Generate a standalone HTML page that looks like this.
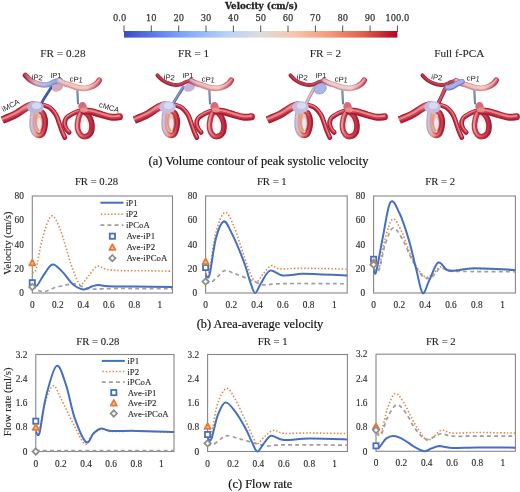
<!DOCTYPE html>
<html><head><meta charset="utf-8"><style>
html,body{margin:0;padding:0;background:#fff;}
svg{display:block;}
</style></head><body>
<svg width="520" height="492" viewBox="0 0 520 492">
<defs><linearGradient id="cb" x1="0" x2="1" y1="0" y2="0"><stop offset="0" stop-color="#3b4cc0"/><stop offset="0.125" stop-color="#6282ea"/><stop offset="0.25" stop-color="#8db0fe"/><stop offset="0.375" stop-color="#b8d0f9"/><stop offset="0.5" stop-color="#dddddd"/><stop offset="0.625" stop-color="#f5c4ad"/><stop offset="0.75" stop-color="#f49a7b"/><stop offset="0.875" stop-color="#de604d"/><stop offset="1" stop-color="#b40426"/></linearGradient><linearGradient id="p2o0" gradientUnits="userSpaceOnUse" x1="27" y1="0" x2="62" y2="0"><stop offset="0" stop-color="#962a3c"/><stop offset="0.3" stop-color="#c08a9c"/><stop offset="0.55" stop-color="#909cd4"/><stop offset="1" stop-color="#6a82c8"/></linearGradient><linearGradient id="p2i0" gradientUnits="userSpaceOnUse" x1="27" y1="0" x2="62" y2="0"><stop offset="0" stop-color="#b84a58"/><stop offset="0.3" stop-color="#e0b4bc"/><stop offset="0.55" stop-color="#b4bce8"/><stop offset="1" stop-color="#88a0dc"/></linearGradient><linearGradient id="p1o0" gradientUnits="userSpaceOnUse" x1="60" y1="0" x2="101" y2="0"><stop offset="0" stop-color="#b8a0c8"/><stop offset="0.2" stop-color="#d8909a"/><stop offset="0.7" stop-color="#dc9c9c"/><stop offset="1" stop-color="#c0485c"/></linearGradient><linearGradient id="p1i0" gradientUnits="userSpaceOnUse" x1="60" y1="0" x2="101" y2="0"><stop offset="0" stop-color="#d8c4dc"/><stop offset="0.2" stop-color="#f0c0b8"/><stop offset="0.7" stop-color="#f0c8c0"/><stop offset="1" stop-color="#d86a78"/></linearGradient><linearGradient id="p2o1" gradientUnits="userSpaceOnUse" x1="27" y1="0" x2="62" y2="0"><stop offset="0" stop-color="#9a2038"/><stop offset="1" stop-color="#a62a40"/></linearGradient><linearGradient id="p2i1" gradientUnits="userSpaceOnUse" x1="27" y1="0" x2="62" y2="0"><stop offset="0" stop-color="#b83a50"/><stop offset="1" stop-color="#c04858"/></linearGradient><linearGradient id="p1o1" gradientUnits="userSpaceOnUse" x1="60" y1="0" x2="101" y2="0"><stop offset="0" stop-color="#b05070"/><stop offset="0.2" stop-color="#d08088"/><stop offset="0.7" stop-color="#dc9898"/><stop offset="1" stop-color="#c04458"/></linearGradient><linearGradient id="p1i1" gradientUnits="userSpaceOnUse" x1="60" y1="0" x2="101" y2="0"><stop offset="0" stop-color="#c890a8"/><stop offset="0.2" stop-color="#eab0b0"/><stop offset="0.7" stop-color="#f0c8c0"/><stop offset="1" stop-color="#d86a78"/></linearGradient><linearGradient id="p2o2" gradientUnits="userSpaceOnUse" x1="27" y1="0" x2="62" y2="0"><stop offset="0" stop-color="#9a2038"/><stop offset="1" stop-color="#a62a40"/></linearGradient><linearGradient id="p2i2" gradientUnits="userSpaceOnUse" x1="27" y1="0" x2="62" y2="0"><stop offset="0" stop-color="#b83a50"/><stop offset="1" stop-color="#c04858"/></linearGradient><linearGradient id="p1o2" gradientUnits="userSpaceOnUse" x1="60" y1="0" x2="101" y2="0"><stop offset="0" stop-color="#b06078"/><stop offset="0.2" stop-color="#cc98a4"/><stop offset="0.7" stop-color="#d4a4a8"/><stop offset="1" stop-color="#b84058"/></linearGradient><linearGradient id="p1i2" gradientUnits="userSpaceOnUse" x1="60" y1="0" x2="101" y2="0"><stop offset="0" stop-color="#d0b0c0"/><stop offset="0.2" stop-color="#ecccc8"/><stop offset="0.7" stop-color="#f0d0cc"/><stop offset="1" stop-color="#d87080"/></linearGradient><linearGradient id="p2o3" gradientUnits="userSpaceOnUse" x1="27" y1="0" x2="62" y2="0"><stop offset="0" stop-color="#9a2038"/><stop offset="1" stop-color="#a62a40"/></linearGradient><linearGradient id="p2i3" gradientUnits="userSpaceOnUse" x1="27" y1="0" x2="62" y2="0"><stop offset="0" stop-color="#b83a50"/><stop offset="1" stop-color="#c04858"/></linearGradient><linearGradient id="p1o3" gradientUnits="userSpaceOnUse" x1="60" y1="0" x2="101" y2="0"><stop offset="0" stop-color="#b06078"/><stop offset="0.2" stop-color="#d08890"/><stop offset="0.7" stop-color="#dc9c9c"/><stop offset="1" stop-color="#b83c54"/></linearGradient><linearGradient id="p1i3" gradientUnits="userSpaceOnUse" x1="60" y1="0" x2="101" y2="0"><stop offset="0" stop-color="#d0a0b0"/><stop offset="0.2" stop-color="#ecb8b4"/><stop offset="0.7" stop-color="#f0c8c0"/><stop offset="1" stop-color="#d86a78"/></linearGradient><linearGradient id="mcaLo" gradientUnits="userSpaceOnUse" x1="4" y1="0" x2="38" y2="0"><stop offset="0" stop-color="#a81c33"/><stop offset="0.6" stop-color="#b02436"/><stop offset="1" stop-color="#c46a80"/></linearGradient><linearGradient id="mcaLi" gradientUnits="userSpaceOnUse" x1="4" y1="0" x2="38" y2="0"><stop offset="0" stop-color="#c83444"/><stop offset="0.55" stop-color="#cf4656"/><stop offset="1" stop-color="#e8aab0"/></linearGradient><linearGradient id="loopL" x1="0" x2="1" y1="0" y2="0"><stop offset="0" stop-color="#d9a0a6"/><stop offset="0.3" stop-color="#e79a88"/><stop offset="0.6" stop-color="#d2424e"/><stop offset="1" stop-color="#b32538"/></linearGradient><linearGradient id="loopLw" x1="0" x2="1" y1="0" y2="0"><stop offset="0" stop-color="#aaa4d6"/><stop offset="0.22" stop-color="#dca0a0"/><stop offset="0.55" stop-color="#c83a48"/><stop offset="1" stop-color="#a81e34"/></linearGradient><linearGradient id="loopRw" x1="0" x2="1" y1="0" y2="0"><stop offset="0" stop-color="#c03848"/><stop offset="0.5" stop-color="#c02c40"/><stop offset="1" stop-color="#a81c34"/></linearGradient><linearGradient id="loopRi" x1="0" x2="1" y1="0" y2="0"><stop offset="0" stop-color="#eaa8a8"/><stop offset="0.5" stop-color="#d85060"/><stop offset="1" stop-color="#c43448"/></linearGradient><linearGradient id="loopLi" x1="0" x2="1" y1="0" y2="0"><stop offset="0" stop-color="#e6c4c4"/><stop offset="0.35" stop-color="#f0aa90"/><stop offset="1" stop-color="#cc4050"/></linearGradient></defs>
<rect width="520" height="492" fill="#fff"/>
<g transform="translate(-2,0)"><path d="M45.0,105.0 C46.2,105.5 49.9,106.2 52.0,107.8 C54.1,109.4 56.3,112.0 57.8,114.5 C59.3,117.0 60.0,119.7 61.0,122.5 C62.0,125.3 63.0,128.7 64.0,131.2 C65.0,133.7 66.3,136.5 66.8,137.6" fill="none" stroke="#a81c33" stroke-width="4.8" stroke-linecap="round" stroke-linejoin="round" /><path d="M45.0,105.0 C46.2,105.5 49.9,106.2 52.0,107.8 C54.1,109.4 56.3,112.0 57.8,114.5 C59.3,117.0 60.0,119.7 61.0,122.5 C62.0,125.3 63.0,128.7 64.0,131.2 C65.0,133.7 66.3,136.5 66.8,137.6" fill="none" stroke="#cc3a4a" stroke-width="2.64" stroke-linecap="round" stroke-linejoin="round" transform="translate(0,-0.5)"/><path d="M45.0,105.0 C46.2,105.5 49.9,106.2 52.0,107.8 C54.1,109.4 56.3,112.0 57.8,114.5 C59.3,117.0 60.0,119.7 61.0,122.5 C62.0,125.3 63.0,128.7 64.0,131.2 C65.0,133.7 66.3,136.5 66.8,137.6" fill="none" stroke="#eca2a2" stroke-width="1.06" stroke-linecap="round" stroke-linejoin="round" transform="translate(0,-1.0)" opacity="0.75"/><path d="M83.0,111.0 C82.2,111.2 79.8,111.6 78.0,112.3 C76.2,113.0 74.2,114.0 72.5,115.0 C70.8,116.0 69.0,117.0 68.0,118.5 C67.0,120.0 66.5,122.4 66.6,124.2 C66.7,126.0 67.8,128.2 68.6,129.6 C69.4,131.0 70.8,131.9 71.2,132.4" fill="none" stroke="#a81c33" stroke-width="4.8" stroke-linecap="round" stroke-linejoin="round" /><path d="M83.0,111.0 C82.2,111.2 79.8,111.6 78.0,112.3 C76.2,113.0 74.2,114.0 72.5,115.0 C70.8,116.0 69.0,117.0 68.0,118.5 C67.0,120.0 66.5,122.4 66.6,124.2 C66.7,126.0 67.8,128.2 68.6,129.6 C69.4,131.0 70.8,131.9 71.2,132.4" fill="none" stroke="#cc3a4a" stroke-width="2.64" stroke-linecap="round" stroke-linejoin="round" transform="translate(0,-0.5)"/><path d="M83.0,111.0 C82.2,111.2 79.8,111.6 78.0,112.3 C76.2,113.0 74.2,114.0 72.5,115.0 C70.8,116.0 69.0,117.0 68.0,118.5 C67.0,120.0 66.5,122.4 66.6,124.2 C66.7,126.0 67.8,128.2 68.6,129.6 C69.4,131.0 70.8,131.9 71.2,132.4" fill="none" stroke="#eca2a2" stroke-width="1.06" stroke-linecap="round" stroke-linejoin="round" transform="translate(0,-1.0)" opacity="0.75"/><path d="M36.0,110.5 C35.0,111.8 34.5,115.0 34.3,118.0 C34.0,121.0 33.8,125.7 34.5,128.5 C35.2,131.3 36.9,133.9 38.5,134.9 C40.1,135.9 42.6,135.7 44.0,134.4 C45.4,133.1 46.5,129.6 47.0,127.0 C47.5,124.4 47.6,121.3 47.2,119.0 C46.8,116.7 45.9,114.4 44.8,113.0 C43.7,111.6 42.0,110.9 40.5,110.5 C39.0,110.1 37.0,109.2 36.0,110.5Z" fill="#efc0b0"/><ellipse cx="41.3" cy="124" rx="2" ry="6" fill="#e4e8f8"/><path d="M39,114 C37,120 37.5,127 40.5,131" fill="none" stroke="#e8926c" stroke-width="2" opacity="0.9"/><path d="M43.6,116 C45.2,121 45,127 43,131" fill="none" stroke="#d24a56" stroke-width="1.6" opacity="0.9"/><path d="M36.0,110.5 C35.0,111.8 34.5,115.0 34.3,118.0 C34.0,121.0 33.8,125.7 34.5,128.5 C35.2,131.3 36.9,133.9 38.5,134.9 C40.1,135.9 42.6,135.7 44.0,134.4 C45.4,133.1 46.5,129.6 47.0,127.0 C47.5,124.4 47.6,121.3 47.2,119.0 C46.8,116.7 45.9,114.4 44.8,113.0 C43.7,111.6 42.0,110.9 40.5,110.5 C39.0,110.1 37.0,109.2 36.0,110.5Z" fill="none" stroke="url(#loopLw)" stroke-width="5.4"/><path d="M36.0,110.5 C35.0,111.8 34.5,115.0 34.3,118.0 C34.0,121.0 33.8,125.7 34.5,128.5 C35.2,131.3 36.9,133.9 38.5,134.9 C40.1,135.9 42.6,135.7 44.0,134.4 C45.4,133.1 46.5,129.6 47.0,127.0 C47.5,124.4 47.6,121.3 47.2,119.0 C46.8,116.7 45.9,114.4 44.8,113.0 C43.7,111.6 42.0,110.9 40.5,110.5 C39.0,110.1 37.0,109.2 36.0,110.5Z" fill="none" stroke="url(#loopLi)" stroke-width="2.2" transform="translate(-0.4,-0.3)" opacity="0.85"/><path d="M84.0,111.5 C82.7,112.5 81.0,116.2 80.3,119.0 C79.6,121.8 79.2,125.9 79.6,128.5 C80.0,131.1 81.2,133.5 82.5,134.8 C83.8,136.2 85.8,136.9 87.5,136.6 C89.2,136.3 91.5,135.1 92.6,133.2 C93.7,131.3 94.1,127.6 94.0,125.0 C93.9,122.4 92.8,119.5 91.8,117.5 C90.8,115.5 89.3,114.0 88.0,113.0 C86.7,112.0 85.3,110.5 84.0,111.5Z" fill="#f6eeee"/><ellipse cx="86.4" cy="127" rx="3" ry="5.8" fill="#ffffff"/><path d="M84.0,111.5 C82.7,112.5 81.0,116.2 80.3,119.0 C79.6,121.8 79.2,125.9 79.6,128.5 C80.0,131.1 81.2,133.5 82.5,134.8 C83.8,136.2 85.8,136.9 87.5,136.6 C89.2,136.3 91.5,135.1 92.6,133.2 C93.7,131.3 94.1,127.6 94.0,125.0 C93.9,122.4 92.8,119.5 91.8,117.5 C90.8,115.5 89.3,114.0 88.0,113.0 C86.7,112.0 85.3,110.5 84.0,111.5Z" fill="none" stroke="url(#loopRw)" stroke-width="5.6"/><path d="M84.0,111.5 C82.7,112.5 81.0,116.2 80.3,119.0 C79.6,121.8 79.2,125.9 79.6,128.5 C80.0,131.1 81.2,133.5 82.5,134.8 C83.8,136.2 85.8,136.9 87.5,136.6 C89.2,136.3 91.5,135.1 92.6,133.2 C93.7,131.3 94.1,127.6 94.0,125.0 C93.9,122.4 92.8,119.5 91.8,117.5 C90.8,115.5 89.3,114.0 88.0,113.0 C86.7,112.0 85.3,110.5 84.0,111.5Z" fill="none" stroke="url(#loopRi)" stroke-width="2.2" transform="translate(-0.4,-0.3)" opacity="0.85"/><path d="M4.3,120.0 C5.5,119.5 9.0,118.2 11.5,117.1 C14.0,116.0 16.8,114.7 19.2,113.3 C21.6,111.9 23.9,110.0 26.0,108.8 C28.1,107.6 29.9,106.7 31.7,106.0 C33.5,105.3 36.1,104.8 37.0,104.5" fill="none" stroke="url(#mcaLo)" stroke-width="7.8" stroke-linecap="butt" stroke-linejoin="round" /><path d="M4.3,120.0 C5.5,119.5 9.0,118.2 11.5,117.1 C14.0,116.0 16.8,114.7 19.2,113.3 C21.6,111.9 23.9,110.0 26.0,108.8 C28.1,107.6 29.9,106.7 31.7,106.0 C33.5,105.3 36.1,104.8 37.0,104.5" fill="none" stroke="url(#mcaLi)" stroke-width="4.68" stroke-linecap="butt" stroke-linejoin="round" transform="translate(0,-0.5)"/><path d="M4.3,120.0 C5.5,119.5 9.0,118.2 11.5,117.1 C14.0,116.0 16.8,114.7 19.2,113.3 C21.6,111.9 23.9,110.0 26.0,108.8 C28.1,107.6 29.9,106.7 31.7,106.0 C33.5,105.3 36.1,104.8 37.0,104.5" fill="none" stroke="#eca2a2" stroke-width="2.18" stroke-linecap="round" stroke-linejoin="round" transform="translate(0,-1.0)" opacity="0.75"/><path d="M86.0,111.0 C87.0,111.1 90.2,111.2 92.0,111.5 C93.8,111.8 94.9,112.0 97.0,112.6 C99.1,113.2 101.8,114.2 104.6,115.0 C107.4,115.8 111.0,117.0 113.8,117.3 C116.6,117.6 120.1,116.9 121.4,116.8" fill="none" stroke="#a81c33" stroke-width="7.0" stroke-linecap="round" stroke-linejoin="round" /><path d="M86.0,111.0 C87.0,111.1 90.2,111.2 92.0,111.5 C93.8,111.8 94.9,112.0 97.0,112.6 C99.1,113.2 101.8,114.2 104.6,115.0 C107.4,115.8 111.0,117.0 113.8,117.3 C116.6,117.6 120.1,116.9 121.4,116.8" fill="none" stroke="#cc3a4a" stroke-width="4.20" stroke-linecap="round" stroke-linejoin="round" transform="translate(0,-0.5)"/><path d="M86.0,111.0 C87.0,111.1 90.2,111.2 92.0,111.5 C93.8,111.8 94.9,112.0 97.0,112.6 C99.1,113.2 101.8,114.2 104.6,115.0 C107.4,115.8 111.0,117.0 113.8,117.3 C116.6,117.6 120.1,116.9 121.4,116.8" fill="none" stroke="#eca2a2" stroke-width="1.96" stroke-linecap="round" stroke-linejoin="round" transform="translate(0,-1.0)" opacity="0.75"/><path d="M53.5,87.0 C52.8,88.2 50.7,91.3 49.0,94.0 C47.3,96.7 44.2,101.8 43.3,103.3" fill="none" stroke="#2d4a9a" stroke-width="2.6" stroke-linecap="round" stroke-linejoin="round" /><path d="M53.5,87.0 C52.8,88.2 50.7,91.3 49.0,94.0 C47.3,96.7 44.2,101.8 43.3,103.3" fill="none" stroke="#4565b5" stroke-width="1.30" stroke-linecap="round" stroke-linejoin="round" transform="translate(0,-0.5)"/><path d="M79.4,90.0 C79.4,91.0 79.5,93.8 79.6,96.0 C79.7,98.2 79.9,102.2 80.0,103.5" fill="none" stroke="#5c6f95" stroke-width="2.0" stroke-linecap="round" stroke-linejoin="round" /><path d="M79.4,90.0 C79.4,91.0 79.5,93.8 79.6,96.0 C79.7,98.2 79.9,102.2 80.0,103.5" fill="none" stroke="#7a90b8" stroke-width="1.10" stroke-linecap="round" stroke-linejoin="round" transform="translate(0,-0.5)"/><ellipse cx="37.5" cy="107.2" rx="8.2" ry="6.2" fill="#b8b6d8"/><ellipse cx="38.5" cy="105.8" rx="4.5" ry="3.2" fill="#dedcf2" opacity="0.9"/><ellipse cx="84.5" cy="106.5" rx="4.2" ry="4.4" fill="#d66a76"/><ellipse cx="86" cy="110" rx="4" ry="2.5" fill="#e89a8e" opacity="0.8"/><ellipse cx="59.5" cy="87.3" rx="5.8" ry="4.2" fill="#d4a8b8" transform="rotate(-25 59.5 87.3)"/><path d="M27.4,75.3 C28.2,76.1 30.5,78.8 32.5,80.2 C34.5,81.6 37.0,82.8 39.3,83.6 C41.5,84.4 44.1,84.9 46.0,85.0 C47.9,85.1 49.0,84.8 50.8,84.3 C52.5,83.8 54.6,82.4 56.5,81.8 C58.4,81.2 61.3,80.8 62.3,80.6" fill="none" stroke="url(#p2o0)" stroke-width="5.4" stroke-linecap="round" stroke-linejoin="round" /><path d="M27.4,75.3 C28.2,76.1 30.5,78.8 32.5,80.2 C34.5,81.6 37.0,82.8 39.3,83.6 C41.5,84.4 44.1,84.9 46.0,85.0 C47.9,85.1 49.0,84.8 50.8,84.3 C52.5,83.8 54.6,82.4 56.5,81.8 C58.4,81.2 61.3,80.8 62.3,80.6" fill="none" stroke="url(#p2i0)" stroke-width="2.97" stroke-linecap="round" stroke-linejoin="round" transform="translate(0,-0.5)"/><path d="M61.0,80.8 C61.8,81.2 64.0,82.4 66.0,83.2 C68.0,84.0 70.5,84.7 72.7,85.4 C74.9,86.1 77.0,87.1 79.4,87.6 C81.8,88.1 84.7,88.5 87.1,88.3 C89.5,88.1 91.9,87.4 93.8,86.6 C95.7,85.8 97.5,84.5 98.7,83.5 C99.9,82.5 100.8,80.8 101.2,80.3" fill="none" stroke="url(#p1o0)" stroke-width="5.8" stroke-linecap="round" stroke-linejoin="round" /><path d="M61.0,80.8 C61.8,81.2 64.0,82.4 66.0,83.2 C68.0,84.0 70.5,84.7 72.7,85.4 C74.9,86.1 77.0,87.1 79.4,87.6 C81.8,88.1 84.7,88.5 87.1,88.3 C89.5,88.1 91.9,87.4 93.8,86.6 C95.7,85.8 97.5,84.5 98.7,83.5 C99.9,82.5 100.8,80.8 101.2,80.3" fill="none" stroke="url(#p1i0)" stroke-width="3.19" stroke-linecap="round" stroke-linejoin="round" transform="translate(0,-0.5)"/><path d="M61.0,80.8 C61.8,81.2 64.0,82.4 66.0,83.2 C68.0,84.0 70.5,84.7 72.7,85.4 C74.9,86.1 77.0,87.1 79.4,87.6 C81.8,88.1 84.7,88.5 87.1,88.3 C89.5,88.1 91.9,87.4 93.8,86.6 C95.7,85.8 97.5,84.5 98.7,83.5 C99.9,82.5 100.8,80.8 101.2,80.3" fill="none" stroke="#f4d0c8" stroke-width="1.28" stroke-linecap="round" stroke-linejoin="round" transform="translate(0,-1.0)" opacity="0.6"/><text x="33.6" y="79.3" font-family="'Liberation Sans',sans-serif" font-size="7.6" fill="#222" transform="rotate(6 33.6 79.3)">iP2</text><text x="52.6" y="78" font-family="'Liberation Sans',sans-serif" font-size="7.6" fill="#222">iP1</text><text x="71.5" y="81.2" font-family="'Liberation Sans',sans-serif" font-size="7.6" fill="#222" transform="rotate(7 71.5 81.2)">cP1</text><text x="5.5" y="112" font-family="'Liberation Sans',sans-serif" font-size="7.6" fill="#222" transform="rotate(-27 5.5 112)">iMCA</text><text x="100.5" y="106.8" font-family="'Liberation Sans',sans-serif" font-size="7.6" fill="#222" transform="rotate(17 100.5 106.8)">cMCA</text></g><g transform="translate(130,0)"><path d="M45.0,105.0 C46.2,105.5 49.9,106.2 52.0,107.8 C54.1,109.4 56.3,112.0 57.8,114.5 C59.3,117.0 60.0,119.7 61.0,122.5 C62.0,125.3 63.0,128.7 64.0,131.2 C65.0,133.7 66.3,136.5 66.8,137.6" fill="none" stroke="#a81c33" stroke-width="4.8" stroke-linecap="round" stroke-linejoin="round" /><path d="M45.0,105.0 C46.2,105.5 49.9,106.2 52.0,107.8 C54.1,109.4 56.3,112.0 57.8,114.5 C59.3,117.0 60.0,119.7 61.0,122.5 C62.0,125.3 63.0,128.7 64.0,131.2 C65.0,133.7 66.3,136.5 66.8,137.6" fill="none" stroke="#cc3a4a" stroke-width="2.64" stroke-linecap="round" stroke-linejoin="round" transform="translate(0,-0.5)"/><path d="M45.0,105.0 C46.2,105.5 49.9,106.2 52.0,107.8 C54.1,109.4 56.3,112.0 57.8,114.5 C59.3,117.0 60.0,119.7 61.0,122.5 C62.0,125.3 63.0,128.7 64.0,131.2 C65.0,133.7 66.3,136.5 66.8,137.6" fill="none" stroke="#eca2a2" stroke-width="1.06" stroke-linecap="round" stroke-linejoin="round" transform="translate(0,-1.0)" opacity="0.75"/><path d="M83.0,111.0 C82.2,111.2 79.8,111.6 78.0,112.3 C76.2,113.0 74.2,114.0 72.5,115.0 C70.8,116.0 69.0,117.0 68.0,118.5 C67.0,120.0 66.5,122.4 66.6,124.2 C66.7,126.0 67.8,128.2 68.6,129.6 C69.4,131.0 70.8,131.9 71.2,132.4" fill="none" stroke="#a81c33" stroke-width="4.8" stroke-linecap="round" stroke-linejoin="round" /><path d="M83.0,111.0 C82.2,111.2 79.8,111.6 78.0,112.3 C76.2,113.0 74.2,114.0 72.5,115.0 C70.8,116.0 69.0,117.0 68.0,118.5 C67.0,120.0 66.5,122.4 66.6,124.2 C66.7,126.0 67.8,128.2 68.6,129.6 C69.4,131.0 70.8,131.9 71.2,132.4" fill="none" stroke="#cc3a4a" stroke-width="2.64" stroke-linecap="round" stroke-linejoin="round" transform="translate(0,-0.5)"/><path d="M83.0,111.0 C82.2,111.2 79.8,111.6 78.0,112.3 C76.2,113.0 74.2,114.0 72.5,115.0 C70.8,116.0 69.0,117.0 68.0,118.5 C67.0,120.0 66.5,122.4 66.6,124.2 C66.7,126.0 67.8,128.2 68.6,129.6 C69.4,131.0 70.8,131.9 71.2,132.4" fill="none" stroke="#eca2a2" stroke-width="1.06" stroke-linecap="round" stroke-linejoin="round" transform="translate(0,-1.0)" opacity="0.75"/><path d="M36.0,110.5 C35.0,111.8 34.5,115.0 34.3,118.0 C34.0,121.0 33.8,125.7 34.5,128.5 C35.2,131.3 36.9,133.9 38.5,134.9 C40.1,135.9 42.6,135.7 44.0,134.4 C45.4,133.1 46.5,129.6 47.0,127.0 C47.5,124.4 47.6,121.3 47.2,119.0 C46.8,116.7 45.9,114.4 44.8,113.0 C43.7,111.6 42.0,110.9 40.5,110.5 C39.0,110.1 37.0,109.2 36.0,110.5Z" fill="#efc0b0"/><ellipse cx="41.3" cy="124" rx="2" ry="6" fill="#e4e8f8"/><path d="M39,114 C37,120 37.5,127 40.5,131" fill="none" stroke="#e8926c" stroke-width="2" opacity="0.9"/><path d="M43.6,116 C45.2,121 45,127 43,131" fill="none" stroke="#d24a56" stroke-width="1.6" opacity="0.9"/><path d="M36.0,110.5 C35.0,111.8 34.5,115.0 34.3,118.0 C34.0,121.0 33.8,125.7 34.5,128.5 C35.2,131.3 36.9,133.9 38.5,134.9 C40.1,135.9 42.6,135.7 44.0,134.4 C45.4,133.1 46.5,129.6 47.0,127.0 C47.5,124.4 47.6,121.3 47.2,119.0 C46.8,116.7 45.9,114.4 44.8,113.0 C43.7,111.6 42.0,110.9 40.5,110.5 C39.0,110.1 37.0,109.2 36.0,110.5Z" fill="none" stroke="url(#loopLw)" stroke-width="5.4"/><path d="M36.0,110.5 C35.0,111.8 34.5,115.0 34.3,118.0 C34.0,121.0 33.8,125.7 34.5,128.5 C35.2,131.3 36.9,133.9 38.5,134.9 C40.1,135.9 42.6,135.7 44.0,134.4 C45.4,133.1 46.5,129.6 47.0,127.0 C47.5,124.4 47.6,121.3 47.2,119.0 C46.8,116.7 45.9,114.4 44.8,113.0 C43.7,111.6 42.0,110.9 40.5,110.5 C39.0,110.1 37.0,109.2 36.0,110.5Z" fill="none" stroke="url(#loopLi)" stroke-width="2.2" transform="translate(-0.4,-0.3)" opacity="0.85"/><path d="M84.0,111.5 C82.7,112.5 81.0,116.2 80.3,119.0 C79.6,121.8 79.2,125.9 79.6,128.5 C80.0,131.1 81.2,133.5 82.5,134.8 C83.8,136.2 85.8,136.9 87.5,136.6 C89.2,136.3 91.5,135.1 92.6,133.2 C93.7,131.3 94.1,127.6 94.0,125.0 C93.9,122.4 92.8,119.5 91.8,117.5 C90.8,115.5 89.3,114.0 88.0,113.0 C86.7,112.0 85.3,110.5 84.0,111.5Z" fill="#f6eeee"/><ellipse cx="86.4" cy="127" rx="3" ry="5.8" fill="#ffffff"/><path d="M84.0,111.5 C82.7,112.5 81.0,116.2 80.3,119.0 C79.6,121.8 79.2,125.9 79.6,128.5 C80.0,131.1 81.2,133.5 82.5,134.8 C83.8,136.2 85.8,136.9 87.5,136.6 C89.2,136.3 91.5,135.1 92.6,133.2 C93.7,131.3 94.1,127.6 94.0,125.0 C93.9,122.4 92.8,119.5 91.8,117.5 C90.8,115.5 89.3,114.0 88.0,113.0 C86.7,112.0 85.3,110.5 84.0,111.5Z" fill="none" stroke="url(#loopRw)" stroke-width="5.6"/><path d="M84.0,111.5 C82.7,112.5 81.0,116.2 80.3,119.0 C79.6,121.8 79.2,125.9 79.6,128.5 C80.0,131.1 81.2,133.5 82.5,134.8 C83.8,136.2 85.8,136.9 87.5,136.6 C89.2,136.3 91.5,135.1 92.6,133.2 C93.7,131.3 94.1,127.6 94.0,125.0 C93.9,122.4 92.8,119.5 91.8,117.5 C90.8,115.5 89.3,114.0 88.0,113.0 C86.7,112.0 85.3,110.5 84.0,111.5Z" fill="none" stroke="url(#loopRi)" stroke-width="2.2" transform="translate(-0.4,-0.3)" opacity="0.85"/><path d="M4.3,120.0 C5.5,119.5 9.0,118.2 11.5,117.1 C14.0,116.0 16.8,114.7 19.2,113.3 C21.6,111.9 23.9,110.0 26.0,108.8 C28.1,107.6 29.9,106.7 31.7,106.0 C33.5,105.3 36.1,104.8 37.0,104.5" fill="none" stroke="url(#mcaLo)" stroke-width="7.8" stroke-linecap="butt" stroke-linejoin="round" /><path d="M4.3,120.0 C5.5,119.5 9.0,118.2 11.5,117.1 C14.0,116.0 16.8,114.7 19.2,113.3 C21.6,111.9 23.9,110.0 26.0,108.8 C28.1,107.6 29.9,106.7 31.7,106.0 C33.5,105.3 36.1,104.8 37.0,104.5" fill="none" stroke="url(#mcaLi)" stroke-width="4.68" stroke-linecap="butt" stroke-linejoin="round" transform="translate(0,-0.5)"/><path d="M4.3,120.0 C5.5,119.5 9.0,118.2 11.5,117.1 C14.0,116.0 16.8,114.7 19.2,113.3 C21.6,111.9 23.9,110.0 26.0,108.8 C28.1,107.6 29.9,106.7 31.7,106.0 C33.5,105.3 36.1,104.8 37.0,104.5" fill="none" stroke="#eca2a2" stroke-width="2.18" stroke-linecap="round" stroke-linejoin="round" transform="translate(0,-1.0)" opacity="0.75"/><path d="M86.0,111.0 C87.0,111.1 90.2,111.2 92.0,111.5 C93.8,111.8 94.9,112.0 97.0,112.6 C99.1,113.2 101.8,114.2 104.6,115.0 C107.4,115.8 111.0,117.0 113.8,117.3 C116.6,117.6 120.1,116.9 121.4,116.8" fill="none" stroke="#a81c33" stroke-width="7.0" stroke-linecap="round" stroke-linejoin="round" /><path d="M86.0,111.0 C87.0,111.1 90.2,111.2 92.0,111.5 C93.8,111.8 94.9,112.0 97.0,112.6 C99.1,113.2 101.8,114.2 104.6,115.0 C107.4,115.8 111.0,117.0 113.8,117.3 C116.6,117.6 120.1,116.9 121.4,116.8" fill="none" stroke="#cc3a4a" stroke-width="4.20" stroke-linecap="round" stroke-linejoin="round" transform="translate(0,-0.5)"/><path d="M86.0,111.0 C87.0,111.1 90.2,111.2 92.0,111.5 C93.8,111.8 94.9,112.0 97.0,112.6 C99.1,113.2 101.8,114.2 104.6,115.0 C107.4,115.8 111.0,117.0 113.8,117.3 C116.6,117.6 120.1,116.9 121.4,116.8" fill="none" stroke="#eca2a2" stroke-width="1.96" stroke-linecap="round" stroke-linejoin="round" transform="translate(0,-1.0)" opacity="0.75"/><path d="M53.5,87.0 C52.8,88.2 50.7,91.3 49.0,94.0 C47.3,96.7 44.2,101.8 43.3,103.3" fill="none" stroke="#5a72ac" stroke-width="3.0" stroke-linecap="round" stroke-linejoin="round" /><path d="M53.5,87.0 C52.8,88.2 50.7,91.3 49.0,94.0 C47.3,96.7 44.2,101.8 43.3,103.3" fill="none" stroke="#7f95c8" stroke-width="1.50" stroke-linecap="round" stroke-linejoin="round" transform="translate(0,-0.5)"/><path d="M79.4,90.0 C79.4,91.0 79.5,93.8 79.6,96.0 C79.7,98.2 79.9,102.2 80.0,103.5" fill="none" stroke="#5c6f95" stroke-width="2.0" stroke-linecap="round" stroke-linejoin="round" /><path d="M79.4,90.0 C79.4,91.0 79.5,93.8 79.6,96.0 C79.7,98.2 79.9,102.2 80.0,103.5" fill="none" stroke="#7a90b8" stroke-width="1.10" stroke-linecap="round" stroke-linejoin="round" transform="translate(0,-0.5)"/><ellipse cx="37.5" cy="107.2" rx="8.2" ry="6.2" fill="#c4bfe2"/><ellipse cx="38.5" cy="105.8" rx="4.5" ry="3.2" fill="#dedcf2" opacity="0.9"/><ellipse cx="84.5" cy="106.5" rx="4.2" ry="4.4" fill="#d66a76"/><ellipse cx="86" cy="110" rx="4" ry="2.5" fill="#e89a8e" opacity="0.8"/><ellipse cx="59.5" cy="87.3" rx="5.8" ry="4.2" fill="#c6b2d6" transform="rotate(-25 59.5 87.3)"/><path d="M27.4,75.3 C28.2,76.1 30.5,78.8 32.5,80.2 C34.5,81.6 37.0,82.8 39.3,83.6 C41.5,84.4 44.1,84.9 46.0,85.0 C47.9,85.1 49.0,84.8 50.8,84.3 C52.5,83.8 54.6,82.4 56.5,81.8 C58.4,81.2 61.3,80.8 62.3,80.6" fill="none" stroke="url(#p2o1)" stroke-width="3.8" stroke-linecap="round" stroke-linejoin="round" /><path d="M27.4,75.3 C28.2,76.1 30.5,78.8 32.5,80.2 C34.5,81.6 37.0,82.8 39.3,83.6 C41.5,84.4 44.1,84.9 46.0,85.0 C47.9,85.1 49.0,84.8 50.8,84.3 C52.5,83.8 54.6,82.4 56.5,81.8 C58.4,81.2 61.3,80.8 62.3,80.6" fill="none" stroke="url(#p2i1)" stroke-width="2.09" stroke-linecap="round" stroke-linejoin="round" transform="translate(0,-0.5)"/><path d="M61.0,80.8 C61.8,81.2 64.0,82.4 66.0,83.2 C68.0,84.0 70.5,84.7 72.7,85.4 C74.9,86.1 77.0,87.1 79.4,87.6 C81.8,88.1 84.7,88.5 87.1,88.3 C89.5,88.1 91.9,87.4 93.8,86.6 C95.7,85.8 97.5,84.5 98.7,83.5 C99.9,82.5 100.8,80.8 101.2,80.3" fill="none" stroke="url(#p1o1)" stroke-width="5.8" stroke-linecap="round" stroke-linejoin="round" /><path d="M61.0,80.8 C61.8,81.2 64.0,82.4 66.0,83.2 C68.0,84.0 70.5,84.7 72.7,85.4 C74.9,86.1 77.0,87.1 79.4,87.6 C81.8,88.1 84.7,88.5 87.1,88.3 C89.5,88.1 91.9,87.4 93.8,86.6 C95.7,85.8 97.5,84.5 98.7,83.5 C99.9,82.5 100.8,80.8 101.2,80.3" fill="none" stroke="url(#p1i1)" stroke-width="3.19" stroke-linecap="round" stroke-linejoin="round" transform="translate(0,-0.5)"/><path d="M61.0,80.8 C61.8,81.2 64.0,82.4 66.0,83.2 C68.0,84.0 70.5,84.7 72.7,85.4 C74.9,86.1 77.0,87.1 79.4,87.6 C81.8,88.1 84.7,88.5 87.1,88.3 C89.5,88.1 91.9,87.4 93.8,86.6 C95.7,85.8 97.5,84.5 98.7,83.5 C99.9,82.5 100.8,80.8 101.2,80.3" fill="none" stroke="#f4d0c8" stroke-width="1.28" stroke-linecap="round" stroke-linejoin="round" transform="translate(0,-1.0)" opacity="0.6"/><text x="33.6" y="79.3" font-family="'Liberation Sans',sans-serif" font-size="7.6" fill="#222" transform="rotate(6 33.6 79.3)">iP2</text><text x="52.6" y="78" font-family="'Liberation Sans',sans-serif" font-size="7.6" fill="#222">iP1</text><text x="71.5" y="81.2" font-family="'Liberation Sans',sans-serif" font-size="7.6" fill="#222" transform="rotate(7 71.5 81.2)">cP1</text></g><g transform="translate(263,0)"><path d="M45.0,105.0 C46.2,105.5 49.9,106.2 52.0,107.8 C54.1,109.4 56.3,112.0 57.8,114.5 C59.3,117.0 60.0,119.7 61.0,122.5 C62.0,125.3 63.0,128.7 64.0,131.2 C65.0,133.7 66.3,136.5 66.8,137.6" fill="none" stroke="#a81c33" stroke-width="4.8" stroke-linecap="round" stroke-linejoin="round" /><path d="M45.0,105.0 C46.2,105.5 49.9,106.2 52.0,107.8 C54.1,109.4 56.3,112.0 57.8,114.5 C59.3,117.0 60.0,119.7 61.0,122.5 C62.0,125.3 63.0,128.7 64.0,131.2 C65.0,133.7 66.3,136.5 66.8,137.6" fill="none" stroke="#cc3a4a" stroke-width="2.64" stroke-linecap="round" stroke-linejoin="round" transform="translate(0,-0.5)"/><path d="M45.0,105.0 C46.2,105.5 49.9,106.2 52.0,107.8 C54.1,109.4 56.3,112.0 57.8,114.5 C59.3,117.0 60.0,119.7 61.0,122.5 C62.0,125.3 63.0,128.7 64.0,131.2 C65.0,133.7 66.3,136.5 66.8,137.6" fill="none" stroke="#eca2a2" stroke-width="1.06" stroke-linecap="round" stroke-linejoin="round" transform="translate(0,-1.0)" opacity="0.75"/><path d="M83.0,111.0 C82.2,111.2 79.8,111.6 78.0,112.3 C76.2,113.0 74.2,114.0 72.5,115.0 C70.8,116.0 69.0,117.0 68.0,118.5 C67.0,120.0 66.5,122.4 66.6,124.2 C66.7,126.0 67.8,128.2 68.6,129.6 C69.4,131.0 70.8,131.9 71.2,132.4" fill="none" stroke="#a81c33" stroke-width="4.8" stroke-linecap="round" stroke-linejoin="round" /><path d="M83.0,111.0 C82.2,111.2 79.8,111.6 78.0,112.3 C76.2,113.0 74.2,114.0 72.5,115.0 C70.8,116.0 69.0,117.0 68.0,118.5 C67.0,120.0 66.5,122.4 66.6,124.2 C66.7,126.0 67.8,128.2 68.6,129.6 C69.4,131.0 70.8,131.9 71.2,132.4" fill="none" stroke="#cc3a4a" stroke-width="2.64" stroke-linecap="round" stroke-linejoin="round" transform="translate(0,-0.5)"/><path d="M83.0,111.0 C82.2,111.2 79.8,111.6 78.0,112.3 C76.2,113.0 74.2,114.0 72.5,115.0 C70.8,116.0 69.0,117.0 68.0,118.5 C67.0,120.0 66.5,122.4 66.6,124.2 C66.7,126.0 67.8,128.2 68.6,129.6 C69.4,131.0 70.8,131.9 71.2,132.4" fill="none" stroke="#eca2a2" stroke-width="1.06" stroke-linecap="round" stroke-linejoin="round" transform="translate(0,-1.0)" opacity="0.75"/><path d="M36.0,110.5 C35.0,111.8 34.5,115.0 34.3,118.0 C34.0,121.0 33.8,125.7 34.5,128.5 C35.2,131.3 36.9,133.9 38.5,134.9 C40.1,135.9 42.6,135.7 44.0,134.4 C45.4,133.1 46.5,129.6 47.0,127.0 C47.5,124.4 47.6,121.3 47.2,119.0 C46.8,116.7 45.9,114.4 44.8,113.0 C43.7,111.6 42.0,110.9 40.5,110.5 C39.0,110.1 37.0,109.2 36.0,110.5Z" fill="#efc0b0"/><ellipse cx="41.3" cy="124" rx="2" ry="6" fill="#e4e8f8"/><path d="M39,114 C37,120 37.5,127 40.5,131" fill="none" stroke="#e8926c" stroke-width="2" opacity="0.9"/><path d="M43.6,116 C45.2,121 45,127 43,131" fill="none" stroke="#d24a56" stroke-width="1.6" opacity="0.9"/><path d="M36.0,110.5 C35.0,111.8 34.5,115.0 34.3,118.0 C34.0,121.0 33.8,125.7 34.5,128.5 C35.2,131.3 36.9,133.9 38.5,134.9 C40.1,135.9 42.6,135.7 44.0,134.4 C45.4,133.1 46.5,129.6 47.0,127.0 C47.5,124.4 47.6,121.3 47.2,119.0 C46.8,116.7 45.9,114.4 44.8,113.0 C43.7,111.6 42.0,110.9 40.5,110.5 C39.0,110.1 37.0,109.2 36.0,110.5Z" fill="none" stroke="url(#loopLw)" stroke-width="5.4"/><path d="M36.0,110.5 C35.0,111.8 34.5,115.0 34.3,118.0 C34.0,121.0 33.8,125.7 34.5,128.5 C35.2,131.3 36.9,133.9 38.5,134.9 C40.1,135.9 42.6,135.7 44.0,134.4 C45.4,133.1 46.5,129.6 47.0,127.0 C47.5,124.4 47.6,121.3 47.2,119.0 C46.8,116.7 45.9,114.4 44.8,113.0 C43.7,111.6 42.0,110.9 40.5,110.5 C39.0,110.1 37.0,109.2 36.0,110.5Z" fill="none" stroke="url(#loopLi)" stroke-width="2.2" transform="translate(-0.4,-0.3)" opacity="0.85"/><path d="M84.0,111.5 C82.7,112.5 81.0,116.2 80.3,119.0 C79.6,121.8 79.2,125.9 79.6,128.5 C80.0,131.1 81.2,133.5 82.5,134.8 C83.8,136.2 85.8,136.9 87.5,136.6 C89.2,136.3 91.5,135.1 92.6,133.2 C93.7,131.3 94.1,127.6 94.0,125.0 C93.9,122.4 92.8,119.5 91.8,117.5 C90.8,115.5 89.3,114.0 88.0,113.0 C86.7,112.0 85.3,110.5 84.0,111.5Z" fill="#f6eeee"/><ellipse cx="86.4" cy="127" rx="3" ry="5.8" fill="#ffffff"/><path d="M84.0,111.5 C82.7,112.5 81.0,116.2 80.3,119.0 C79.6,121.8 79.2,125.9 79.6,128.5 C80.0,131.1 81.2,133.5 82.5,134.8 C83.8,136.2 85.8,136.9 87.5,136.6 C89.2,136.3 91.5,135.1 92.6,133.2 C93.7,131.3 94.1,127.6 94.0,125.0 C93.9,122.4 92.8,119.5 91.8,117.5 C90.8,115.5 89.3,114.0 88.0,113.0 C86.7,112.0 85.3,110.5 84.0,111.5Z" fill="none" stroke="url(#loopRw)" stroke-width="5.6"/><path d="M84.0,111.5 C82.7,112.5 81.0,116.2 80.3,119.0 C79.6,121.8 79.2,125.9 79.6,128.5 C80.0,131.1 81.2,133.5 82.5,134.8 C83.8,136.2 85.8,136.9 87.5,136.6 C89.2,136.3 91.5,135.1 92.6,133.2 C93.7,131.3 94.1,127.6 94.0,125.0 C93.9,122.4 92.8,119.5 91.8,117.5 C90.8,115.5 89.3,114.0 88.0,113.0 C86.7,112.0 85.3,110.5 84.0,111.5Z" fill="none" stroke="url(#loopRi)" stroke-width="2.2" transform="translate(-0.4,-0.3)" opacity="0.85"/><path d="M4.3,120.0 C5.5,119.5 9.0,118.2 11.5,117.1 C14.0,116.0 16.8,114.7 19.2,113.3 C21.6,111.9 23.9,110.0 26.0,108.8 C28.1,107.6 29.9,106.7 31.7,106.0 C33.5,105.3 36.1,104.8 37.0,104.5" fill="none" stroke="url(#mcaLo)" stroke-width="7.8" stroke-linecap="butt" stroke-linejoin="round" /><path d="M4.3,120.0 C5.5,119.5 9.0,118.2 11.5,117.1 C14.0,116.0 16.8,114.7 19.2,113.3 C21.6,111.9 23.9,110.0 26.0,108.8 C28.1,107.6 29.9,106.7 31.7,106.0 C33.5,105.3 36.1,104.8 37.0,104.5" fill="none" stroke="url(#mcaLi)" stroke-width="4.68" stroke-linecap="butt" stroke-linejoin="round" transform="translate(0,-0.5)"/><path d="M4.3,120.0 C5.5,119.5 9.0,118.2 11.5,117.1 C14.0,116.0 16.8,114.7 19.2,113.3 C21.6,111.9 23.9,110.0 26.0,108.8 C28.1,107.6 29.9,106.7 31.7,106.0 C33.5,105.3 36.1,104.8 37.0,104.5" fill="none" stroke="#eca2a2" stroke-width="2.18" stroke-linecap="round" stroke-linejoin="round" transform="translate(0,-1.0)" opacity="0.75"/><path d="M86.0,111.0 C87.0,111.1 90.2,111.2 92.0,111.5 C93.8,111.8 94.9,112.0 97.0,112.6 C99.1,113.2 101.8,114.2 104.6,115.0 C107.4,115.8 111.0,117.0 113.8,117.3 C116.6,117.6 120.1,116.9 121.4,116.8" fill="none" stroke="#a81c33" stroke-width="7.0" stroke-linecap="round" stroke-linejoin="round" /><path d="M86.0,111.0 C87.0,111.1 90.2,111.2 92.0,111.5 C93.8,111.8 94.9,112.0 97.0,112.6 C99.1,113.2 101.8,114.2 104.6,115.0 C107.4,115.8 111.0,117.0 113.8,117.3 C116.6,117.6 120.1,116.9 121.4,116.8" fill="none" stroke="#cc3a4a" stroke-width="4.20" stroke-linecap="round" stroke-linejoin="round" transform="translate(0,-0.5)"/><path d="M86.0,111.0 C87.0,111.1 90.2,111.2 92.0,111.5 C93.8,111.8 94.9,112.0 97.0,112.6 C99.1,113.2 101.8,114.2 104.6,115.0 C107.4,115.8 111.0,117.0 113.8,117.3 C116.6,117.6 120.1,116.9 121.4,116.8" fill="none" stroke="#eca2a2" stroke-width="1.96" stroke-linecap="round" stroke-linejoin="round" transform="translate(0,-1.0)" opacity="0.75"/><path d="M52.0,86.5 C51.3,87.8 49.5,91.2 48.0,94.0 C46.5,96.8 44.1,101.8 43.3,103.3" fill="none" stroke="#b8909c" stroke-width="3.4" stroke-linecap="round" stroke-linejoin="round" /><path d="M52.0,86.5 C51.3,87.8 49.5,91.2 48.0,94.0 C46.5,96.8 44.1,101.8 43.3,103.3" fill="none" stroke="#dcc0c4" stroke-width="1.70" stroke-linecap="round" stroke-linejoin="round" transform="translate(0,-0.5)"/><path d="M79.4,90.0 C79.4,91.0 79.5,93.8 79.6,96.0 C79.7,98.2 79.9,102.2 80.0,103.5" fill="none" stroke="#5c6f95" stroke-width="2.0" stroke-linecap="round" stroke-linejoin="round" /><path d="M79.4,90.0 C79.4,91.0 79.5,93.8 79.6,96.0 C79.7,98.2 79.9,102.2 80.0,103.5" fill="none" stroke="#7a90b8" stroke-width="1.10" stroke-linecap="round" stroke-linejoin="round" transform="translate(0,-0.5)"/><ellipse cx="37.5" cy="107.2" rx="8.2" ry="6.2" fill="#c4bfe2"/><ellipse cx="38.5" cy="105.8" rx="4.5" ry="3.2" fill="#dedcf2" opacity="0.9"/><ellipse cx="84.5" cy="106.5" rx="4.2" ry="4.4" fill="#d66a76"/><ellipse cx="86" cy="110" rx="4" ry="2.5" fill="#e89a8e" opacity="0.8"/><path d="M27.4,75.3 C28.2,76.1 30.5,78.8 32.5,80.2 C34.5,81.6 37.0,82.8 39.3,83.6 C41.5,84.4 44.1,84.9 46.0,85.0 C47.9,85.1 49.0,84.8 50.8,84.3 C52.5,83.8 54.6,82.4 56.5,81.8 C58.4,81.2 61.3,80.8 62.3,80.6" fill="none" stroke="url(#p2o2)" stroke-width="3.8" stroke-linecap="round" stroke-linejoin="round" /><path d="M27.4,75.3 C28.2,76.1 30.5,78.8 32.5,80.2 C34.5,81.6 37.0,82.8 39.3,83.6 C41.5,84.4 44.1,84.9 46.0,85.0 C47.9,85.1 49.0,84.8 50.8,84.3 C52.5,83.8 54.6,82.4 56.5,81.8 C58.4,81.2 61.3,80.8 62.3,80.6" fill="none" stroke="url(#p2i2)" stroke-width="2.09" stroke-linecap="round" stroke-linejoin="round" transform="translate(0,-0.5)"/><path d="M61.0,80.8 C61.8,81.2 64.0,82.4 66.0,83.2 C68.0,84.0 70.5,84.7 72.7,85.4 C74.9,86.1 77.0,87.1 79.4,87.6 C81.8,88.1 84.7,88.5 87.1,88.3 C89.5,88.1 91.9,87.4 93.8,86.6 C95.7,85.8 97.5,84.5 98.7,83.5 C99.9,82.5 100.8,80.8 101.2,80.3" fill="none" stroke="url(#p1o2)" stroke-width="5.8" stroke-linecap="round" stroke-linejoin="round" /><path d="M61.0,80.8 C61.8,81.2 64.0,82.4 66.0,83.2 C68.0,84.0 70.5,84.7 72.7,85.4 C74.9,86.1 77.0,87.1 79.4,87.6 C81.8,88.1 84.7,88.5 87.1,88.3 C89.5,88.1 91.9,87.4 93.8,86.6 C95.7,85.8 97.5,84.5 98.7,83.5 C99.9,82.5 100.8,80.8 101.2,80.3" fill="none" stroke="url(#p1i2)" stroke-width="3.19" stroke-linecap="round" stroke-linejoin="round" transform="translate(0,-0.5)"/><path d="M61.0,80.8 C61.8,81.2 64.0,82.4 66.0,83.2 C68.0,84.0 70.5,84.7 72.7,85.4 C74.9,86.1 77.0,87.1 79.4,87.6 C81.8,88.1 84.7,88.5 87.1,88.3 C89.5,88.1 91.9,87.4 93.8,86.6 C95.7,85.8 97.5,84.5 98.7,83.5 C99.9,82.5 100.8,80.8 101.2,80.3" fill="none" stroke="#f4d0c8" stroke-width="1.28" stroke-linecap="round" stroke-linejoin="round" transform="translate(0,-1.0)" opacity="0.6"/><ellipse cx="57.2" cy="88.8" rx="6.2" ry="5" fill="#a8b6e6" stroke="#8c9ad2" stroke-width="0.8" transform="rotate(-20 57.2 88.8)"/><text x="33.6" y="79.3" font-family="'Liberation Sans',sans-serif" font-size="7.6" fill="#222" transform="rotate(6 33.6 79.3)">iP2</text><text x="52.6" y="78" font-family="'Liberation Sans',sans-serif" font-size="7.6" fill="#222">iP1</text><text x="71.5" y="81.2" font-family="'Liberation Sans',sans-serif" font-size="7.6" fill="#222" transform="rotate(7 71.5 81.2)">cP1</text></g><g transform="translate(395,0)"><path d="M45.0,105.0 C46.2,105.5 49.9,106.2 52.0,107.8 C54.1,109.4 56.3,112.0 57.8,114.5 C59.3,117.0 60.0,119.7 61.0,122.5 C62.0,125.3 63.0,128.7 64.0,131.2 C65.0,133.7 66.3,136.5 66.8,137.6" fill="none" stroke="#a81c33" stroke-width="4.8" stroke-linecap="round" stroke-linejoin="round" /><path d="M45.0,105.0 C46.2,105.5 49.9,106.2 52.0,107.8 C54.1,109.4 56.3,112.0 57.8,114.5 C59.3,117.0 60.0,119.7 61.0,122.5 C62.0,125.3 63.0,128.7 64.0,131.2 C65.0,133.7 66.3,136.5 66.8,137.6" fill="none" stroke="#cc3a4a" stroke-width="2.64" stroke-linecap="round" stroke-linejoin="round" transform="translate(0,-0.5)"/><path d="M45.0,105.0 C46.2,105.5 49.9,106.2 52.0,107.8 C54.1,109.4 56.3,112.0 57.8,114.5 C59.3,117.0 60.0,119.7 61.0,122.5 C62.0,125.3 63.0,128.7 64.0,131.2 C65.0,133.7 66.3,136.5 66.8,137.6" fill="none" stroke="#eca2a2" stroke-width="1.06" stroke-linecap="round" stroke-linejoin="round" transform="translate(0,-1.0)" opacity="0.75"/><path d="M83.0,111.0 C82.2,111.2 79.8,111.6 78.0,112.3 C76.2,113.0 74.2,114.0 72.5,115.0 C70.8,116.0 69.0,117.0 68.0,118.5 C67.0,120.0 66.5,122.4 66.6,124.2 C66.7,126.0 67.8,128.2 68.6,129.6 C69.4,131.0 70.8,131.9 71.2,132.4" fill="none" stroke="#a81c33" stroke-width="4.8" stroke-linecap="round" stroke-linejoin="round" /><path d="M83.0,111.0 C82.2,111.2 79.8,111.6 78.0,112.3 C76.2,113.0 74.2,114.0 72.5,115.0 C70.8,116.0 69.0,117.0 68.0,118.5 C67.0,120.0 66.5,122.4 66.6,124.2 C66.7,126.0 67.8,128.2 68.6,129.6 C69.4,131.0 70.8,131.9 71.2,132.4" fill="none" stroke="#cc3a4a" stroke-width="2.64" stroke-linecap="round" stroke-linejoin="round" transform="translate(0,-0.5)"/><path d="M83.0,111.0 C82.2,111.2 79.8,111.6 78.0,112.3 C76.2,113.0 74.2,114.0 72.5,115.0 C70.8,116.0 69.0,117.0 68.0,118.5 C67.0,120.0 66.5,122.4 66.6,124.2 C66.7,126.0 67.8,128.2 68.6,129.6 C69.4,131.0 70.8,131.9 71.2,132.4" fill="none" stroke="#eca2a2" stroke-width="1.06" stroke-linecap="round" stroke-linejoin="round" transform="translate(0,-1.0)" opacity="0.75"/><path d="M36.0,110.5 C35.0,111.8 34.5,115.0 34.3,118.0 C34.0,121.0 33.8,125.7 34.5,128.5 C35.2,131.3 36.9,133.9 38.5,134.9 C40.1,135.9 42.6,135.7 44.0,134.4 C45.4,133.1 46.5,129.6 47.0,127.0 C47.5,124.4 47.6,121.3 47.2,119.0 C46.8,116.7 45.9,114.4 44.8,113.0 C43.7,111.6 42.0,110.9 40.5,110.5 C39.0,110.1 37.0,109.2 36.0,110.5Z" fill="#efc0b0"/><ellipse cx="41.3" cy="124" rx="2" ry="6" fill="#e4e8f8"/><path d="M39,114 C37,120 37.5,127 40.5,131" fill="none" stroke="#e8926c" stroke-width="2" opacity="0.9"/><path d="M43.6,116 C45.2,121 45,127 43,131" fill="none" stroke="#d24a56" stroke-width="1.6" opacity="0.9"/><path d="M36.0,110.5 C35.0,111.8 34.5,115.0 34.3,118.0 C34.0,121.0 33.8,125.7 34.5,128.5 C35.2,131.3 36.9,133.9 38.5,134.9 C40.1,135.9 42.6,135.7 44.0,134.4 C45.4,133.1 46.5,129.6 47.0,127.0 C47.5,124.4 47.6,121.3 47.2,119.0 C46.8,116.7 45.9,114.4 44.8,113.0 C43.7,111.6 42.0,110.9 40.5,110.5 C39.0,110.1 37.0,109.2 36.0,110.5Z" fill="none" stroke="url(#loopLw)" stroke-width="5.4"/><path d="M36.0,110.5 C35.0,111.8 34.5,115.0 34.3,118.0 C34.0,121.0 33.8,125.7 34.5,128.5 C35.2,131.3 36.9,133.9 38.5,134.9 C40.1,135.9 42.6,135.7 44.0,134.4 C45.4,133.1 46.5,129.6 47.0,127.0 C47.5,124.4 47.6,121.3 47.2,119.0 C46.8,116.7 45.9,114.4 44.8,113.0 C43.7,111.6 42.0,110.9 40.5,110.5 C39.0,110.1 37.0,109.2 36.0,110.5Z" fill="none" stroke="url(#loopLi)" stroke-width="2.2" transform="translate(-0.4,-0.3)" opacity="0.85"/><path d="M84.0,111.5 C82.7,112.5 81.0,116.2 80.3,119.0 C79.6,121.8 79.2,125.9 79.6,128.5 C80.0,131.1 81.2,133.5 82.5,134.8 C83.8,136.2 85.8,136.9 87.5,136.6 C89.2,136.3 91.5,135.1 92.6,133.2 C93.7,131.3 94.1,127.6 94.0,125.0 C93.9,122.4 92.8,119.5 91.8,117.5 C90.8,115.5 89.3,114.0 88.0,113.0 C86.7,112.0 85.3,110.5 84.0,111.5Z" fill="#f6eeee"/><ellipse cx="86.4" cy="127" rx="3" ry="5.8" fill="#ffffff"/><path d="M84.0,111.5 C82.7,112.5 81.0,116.2 80.3,119.0 C79.6,121.8 79.2,125.9 79.6,128.5 C80.0,131.1 81.2,133.5 82.5,134.8 C83.8,136.2 85.8,136.9 87.5,136.6 C89.2,136.3 91.5,135.1 92.6,133.2 C93.7,131.3 94.1,127.6 94.0,125.0 C93.9,122.4 92.8,119.5 91.8,117.5 C90.8,115.5 89.3,114.0 88.0,113.0 C86.7,112.0 85.3,110.5 84.0,111.5Z" fill="none" stroke="url(#loopRw)" stroke-width="5.6"/><path d="M84.0,111.5 C82.7,112.5 81.0,116.2 80.3,119.0 C79.6,121.8 79.2,125.9 79.6,128.5 C80.0,131.1 81.2,133.5 82.5,134.8 C83.8,136.2 85.8,136.9 87.5,136.6 C89.2,136.3 91.5,135.1 92.6,133.2 C93.7,131.3 94.1,127.6 94.0,125.0 C93.9,122.4 92.8,119.5 91.8,117.5 C90.8,115.5 89.3,114.0 88.0,113.0 C86.7,112.0 85.3,110.5 84.0,111.5Z" fill="none" stroke="url(#loopRi)" stroke-width="2.2" transform="translate(-0.4,-0.3)" opacity="0.85"/><path d="M4.3,120.0 C5.5,119.5 9.0,118.2 11.5,117.1 C14.0,116.0 16.8,114.7 19.2,113.3 C21.6,111.9 23.9,110.0 26.0,108.8 C28.1,107.6 29.9,106.7 31.7,106.0 C33.5,105.3 36.1,104.8 37.0,104.5" fill="none" stroke="url(#mcaLo)" stroke-width="7.8" stroke-linecap="butt" stroke-linejoin="round" /><path d="M4.3,120.0 C5.5,119.5 9.0,118.2 11.5,117.1 C14.0,116.0 16.8,114.7 19.2,113.3 C21.6,111.9 23.9,110.0 26.0,108.8 C28.1,107.6 29.9,106.7 31.7,106.0 C33.5,105.3 36.1,104.8 37.0,104.5" fill="none" stroke="url(#mcaLi)" stroke-width="4.68" stroke-linecap="butt" stroke-linejoin="round" transform="translate(0,-0.5)"/><path d="M4.3,120.0 C5.5,119.5 9.0,118.2 11.5,117.1 C14.0,116.0 16.8,114.7 19.2,113.3 C21.6,111.9 23.9,110.0 26.0,108.8 C28.1,107.6 29.9,106.7 31.7,106.0 C33.5,105.3 36.1,104.8 37.0,104.5" fill="none" stroke="#eca2a2" stroke-width="2.18" stroke-linecap="round" stroke-linejoin="round" transform="translate(0,-1.0)" opacity="0.75"/><path d="M86.0,111.0 C87.0,111.1 90.2,111.2 92.0,111.5 C93.8,111.8 94.9,112.0 97.0,112.6 C99.1,113.2 101.8,114.2 104.6,115.0 C107.4,115.8 111.0,117.0 113.8,117.3 C116.6,117.6 120.1,116.9 121.4,116.8" fill="none" stroke="#a81c33" stroke-width="7.0" stroke-linecap="round" stroke-linejoin="round" /><path d="M86.0,111.0 C87.0,111.1 90.2,111.2 92.0,111.5 C93.8,111.8 94.9,112.0 97.0,112.6 C99.1,113.2 101.8,114.2 104.6,115.0 C107.4,115.8 111.0,117.0 113.8,117.3 C116.6,117.6 120.1,116.9 121.4,116.8" fill="none" stroke="#cc3a4a" stroke-width="4.20" stroke-linecap="round" stroke-linejoin="round" transform="translate(0,-0.5)"/><path d="M86.0,111.0 C87.0,111.1 90.2,111.2 92.0,111.5 C93.8,111.8 94.9,112.0 97.0,112.6 C99.1,113.2 101.8,114.2 104.6,115.0 C107.4,115.8 111.0,117.0 113.8,117.3 C116.6,117.6 120.1,116.9 121.4,116.8" fill="none" stroke="#eca2a2" stroke-width="1.96" stroke-linecap="round" stroke-linejoin="round" transform="translate(0,-1.0)" opacity="0.75"/><path d="M51.5,86.0 C50.8,87.4 48.8,91.7 47.5,94.5 C46.2,97.3 44.2,101.6 43.5,103.0" fill="none" stroke="#a3243a" stroke-width="4.0" stroke-linecap="round" stroke-linejoin="round" /><path d="M51.5,86.0 C50.8,87.4 48.8,91.7 47.5,94.5 C46.2,97.3 44.2,101.6 43.5,103.0" fill="none" stroke="#c85a68" stroke-width="2.00" stroke-linecap="round" stroke-linejoin="round" transform="translate(0,-0.5)"/><path d="M79.4,90.0 C79.4,91.0 79.5,93.8 79.6,96.0 C79.7,98.2 79.9,102.2 80.0,103.5" fill="none" stroke="#5c6f95" stroke-width="2.0" stroke-linecap="round" stroke-linejoin="round" /><path d="M79.4,90.0 C79.4,91.0 79.5,93.8 79.6,96.0 C79.7,98.2 79.9,102.2 80.0,103.5" fill="none" stroke="#7a90b8" stroke-width="1.10" stroke-linecap="round" stroke-linejoin="round" transform="translate(0,-0.5)"/><ellipse cx="37.5" cy="107.2" rx="8.2" ry="6.2" fill="#c4bfe2"/><ellipse cx="38.5" cy="105.8" rx="4.5" ry="3.2" fill="#dedcf2" opacity="0.9"/><ellipse cx="84.5" cy="106.5" rx="4.2" ry="4.4" fill="#d66a76"/><ellipse cx="86" cy="110" rx="4" ry="2.5" fill="#e89a8e" opacity="0.8"/><path d="M27.4,75.3 C28.2,76.1 30.5,78.8 32.5,80.2 C34.5,81.6 37.0,82.8 39.3,83.6 C41.5,84.4 44.1,84.9 46.0,85.0 C47.9,85.1 49.0,84.8 50.8,84.3 C52.5,83.8 54.6,82.4 56.5,81.8 C58.4,81.2 61.3,80.8 62.3,80.6" fill="none" stroke="url(#p2o3)" stroke-width="3.8" stroke-linecap="round" stroke-linejoin="round" /><path d="M27.4,75.3 C28.2,76.1 30.5,78.8 32.5,80.2 C34.5,81.6 37.0,82.8 39.3,83.6 C41.5,84.4 44.1,84.9 46.0,85.0 C47.9,85.1 49.0,84.8 50.8,84.3 C52.5,83.8 54.6,82.4 56.5,81.8 C58.4,81.2 61.3,80.8 62.3,80.6" fill="none" stroke="url(#p2i3)" stroke-width="2.09" stroke-linecap="round" stroke-linejoin="round" transform="translate(0,-0.5)"/><path d="M61.0,80.8 C61.8,81.2 64.0,82.4 66.0,83.2 C68.0,84.0 70.5,84.7 72.7,85.4 C74.9,86.1 77.0,87.1 79.4,87.6 C81.8,88.1 84.7,88.5 87.1,88.3 C89.5,88.1 91.9,87.4 93.8,86.6 C95.7,85.8 97.5,84.5 98.7,83.5 C99.9,82.5 100.8,80.8 101.2,80.3" fill="none" stroke="url(#p1o3)" stroke-width="5.8" stroke-linecap="round" stroke-linejoin="round" /><path d="M61.0,80.8 C61.8,81.2 64.0,82.4 66.0,83.2 C68.0,84.0 70.5,84.7 72.7,85.4 C74.9,86.1 77.0,87.1 79.4,87.6 C81.8,88.1 84.7,88.5 87.1,88.3 C89.5,88.1 91.9,87.4 93.8,86.6 C95.7,85.8 97.5,84.5 98.7,83.5 C99.9,82.5 100.8,80.8 101.2,80.3" fill="none" stroke="url(#p1i3)" stroke-width="3.19" stroke-linecap="round" stroke-linejoin="round" transform="translate(0,-0.5)"/><path d="M61.0,80.8 C61.8,81.2 64.0,82.4 66.0,83.2 C68.0,84.0 70.5,84.7 72.7,85.4 C74.9,86.1 77.0,87.1 79.4,87.6 C81.8,88.1 84.7,88.5 87.1,88.3 C89.5,88.1 91.9,87.4 93.8,86.6 C95.7,85.8 97.5,84.5 98.7,83.5 C99.9,82.5 100.8,80.8 101.2,80.3" fill="none" stroke="#f4d0c8" stroke-width="1.28" stroke-linecap="round" stroke-linejoin="round" transform="translate(0,-1.0)" opacity="0.6"/><path d="M52.2,87.6 C52.9,87.5 55.0,87.8 56.5,87.2 C58.0,86.6 59.8,85.1 61.5,84.2 C63.2,83.3 66.1,82.0 67.0,81.6" fill="none" stroke="#7c7ed0" stroke-width="5.6" stroke-linecap="round" stroke-linejoin="round" /><path d="M52.2,87.6 C52.9,87.5 55.0,87.8 56.5,87.2 C58.0,86.6 59.8,85.1 61.5,84.2 C63.2,83.3 66.1,82.0 67.0,81.6" fill="none" stroke="#aab0e8" stroke-width="3.47" stroke-linecap="round" stroke-linejoin="round" transform="translate(0,-0.5)"/><text x="36.1" y="79.3" font-family="'Liberation Sans',sans-serif" font-size="7.6" fill="#222" transform="rotate(6 36.1 79.3)">iP2</text><text x="71.5" y="80.2" font-family="'Liberation Sans',sans-serif" font-size="7.6" fill="#222" transform="rotate(7 71.5 80.2)">cP1</text></g>
<rect x="32.3" y="196" width="140.2" height="97" fill="#fff" stroke="#868686" stroke-width="1.1"/>
<g clip-path="none">
<path d="M32.3,272.4 C32.9,271.8 34.4,274.4 36.1,268.8 C37.8,263.1 39.9,247.2 42.5,238.4 C45.0,229.6 48.4,217.4 51.4,216.0 C54.4,214.6 57.2,222.2 60.3,229.9 C63.5,237.7 67.6,254.0 70.5,262.7 C73.5,271.4 76.3,278.6 78.2,282.1 C80.1,285.6 80.3,284.9 82.0,283.9 C83.7,282.9 85.8,279.0 88.4,276.0 C90.9,273.1 94.3,267.4 97.3,266.3 C100.3,265.2 102.2,268.6 106.2,269.4 C110.3,270.1 114.7,270.3 121.5,270.6 C128.3,270.8 138.5,270.7 147.0,270.8 C155.5,270.9 168.3,271.1 172.5,271.2" fill="none" stroke="#de8a50" stroke-width="1.6" stroke-dasharray="1.5 1.9"/>
<path d="M32.3,286.3 C33.4,287.0 36.5,289.7 38.7,290.6 C40.8,291.4 42.3,292.1 45.0,291.5 C47.8,291.0 51.8,288.6 55.2,287.5 C58.6,286.5 62.3,285.7 65.4,285.1 C68.6,284.5 71.4,283.6 74.4,283.9 C77.3,284.2 80.5,286.1 83.3,286.9 C86.0,287.8 87.7,288.8 90.9,289.1 C94.1,289.4 97.3,288.9 102.4,288.8 C107.5,288.7 109.8,288.5 121.5,288.5 C133.2,288.5 164.0,288.7 172.5,288.8" fill="none" stroke="#9e9e9e" stroke-width="1.7" stroke-dasharray="3.9 3.2"/>
<path d="M32.3,282.1 C33.0,282.7 34.8,286.9 36.8,285.7 C38.7,284.5 41.1,278.3 43.8,274.8 C46.4,271.3 49.5,264.9 52.7,264.5 C55.9,264.1 59.5,269.1 62.9,272.4 C66.3,275.7 69.7,281.7 73.1,284.5 C76.5,287.3 80.1,289.1 83.3,289.4 C86.5,289.7 89.7,287.0 92.2,286.3 C94.8,285.6 95.8,285.1 98.6,285.1 C101.3,285.1 102.8,286.1 108.8,286.3 C114.7,286.6 123.6,286.5 134.3,286.6 C144.9,286.7 166.1,286.9 172.5,286.9" fill="none" stroke="#4570c0" stroke-width="2" stroke-linejoin="round"/>
</g>
<rect x="29.699999999999996" y="280.09375" width="5.2" height="5.2" fill="#fff" stroke="#4570c0" stroke-width="1.8"/>
<path d="M32.3,259.5875 L35.4,265.2875 L29.199999999999996,265.2875Z" fill="#f6b88c" stroke="#e47a34" stroke-width="1.7" stroke-linejoin="round"/>
<path d="M32.3,283.7375 L35.5,286.9375 L32.3,290.1375 L29.099999999999998,286.9375Z" fill="#f4f4f4" stroke="#8c8c8c" stroke-width="1.7"/>
<text x="23.799999999999997" y="296.2" font-size="9.3" text-anchor="end" font-weight="normal" font-family="'Liberation Serif',serif" fill="#262626" stroke="#262626" stroke-width="0.12" >0</text>
<text x="23.799999999999997" y="271.95" font-size="9.3" text-anchor="end" font-weight="normal" font-family="'Liberation Serif',serif" fill="#262626" stroke="#262626" stroke-width="0.12" >20</text>
<text x="23.799999999999997" y="247.7" font-size="9.3" text-anchor="end" font-weight="normal" font-family="'Liberation Serif',serif" fill="#262626" stroke="#262626" stroke-width="0.12" >40</text>
<text x="23.799999999999997" y="223.45" font-size="9.3" text-anchor="end" font-weight="normal" font-family="'Liberation Serif',serif" fill="#262626" stroke="#262626" stroke-width="0.12" >60</text>
<text x="23.799999999999997" y="199.2" font-size="9.3" text-anchor="end" font-weight="normal" font-family="'Liberation Serif',serif" fill="#262626" stroke="#262626" stroke-width="0.12" >80</text>
<text x="32.3" y="308" font-size="9.3" text-anchor="middle" font-weight="normal" font-family="'Liberation Serif',serif" fill="#262626" stroke="#262626" stroke-width="0.12" >0</text>
<text x="57.79090909090908" y="308" font-size="9.3" text-anchor="middle" font-weight="normal" font-family="'Liberation Serif',serif" fill="#262626" stroke="#262626" stroke-width="0.12" >0.2</text>
<text x="83.28181818181818" y="308" font-size="9.3" text-anchor="middle" font-weight="normal" font-family="'Liberation Serif',serif" fill="#262626" stroke="#262626" stroke-width="0.12" >0.4</text>
<text x="108.77272727272725" y="308" font-size="9.3" text-anchor="middle" font-weight="normal" font-family="'Liberation Serif',serif" fill="#262626" stroke="#262626" stroke-width="0.12" >0.6</text>
<text x="134.26363636363635" y="308" font-size="9.3" text-anchor="middle" font-weight="normal" font-family="'Liberation Serif',serif" fill="#262626" stroke="#262626" stroke-width="0.12" >0.8</text>
<text x="159.75454545454545" y="308" font-size="9.3" text-anchor="middle" font-weight="normal" font-family="'Liberation Serif',serif" fill="#262626" stroke="#262626" stroke-width="0.12" >1</text>
<text x="96.5" y="184.8" font-size="10.7" text-anchor="middle" font-weight="normal" font-family="'Liberation Serif',serif" fill="#1a1a1a" stroke="#1a1a1a" stroke-width="0.1" >FR = 0.28</text>
<rect x="205.6" y="196" width="141.6" height="97" fill="#fff" stroke="#868686" stroke-width="1.1"/>
<g clip-path="none">
<path d="M205.6,273.0 C206.2,272.5 207.7,276.7 209.5,270.0 C211.2,263.2 213.3,242.0 215.9,232.4 C218.5,222.8 221.9,213.4 224.9,212.4 C227.9,211.4 230.7,218.9 233.9,226.3 C237.1,233.7 241.2,248.1 244.2,256.6 C247.2,265.1 249.8,273.1 251.9,277.2 C254.1,281.4 255.2,282.1 257.1,281.5 C259.0,280.9 261.2,276.2 263.5,273.6 C265.9,271.0 268.7,266.5 271.3,265.7 C273.8,264.9 274.9,268.3 279.0,268.8 C283.1,269.2 288.6,268.4 295.7,268.4 C302.8,268.3 312.9,268.4 321.5,268.5 C330.0,268.6 342.9,269.1 347.2,269.2" fill="none" stroke="#de8a50" stroke-width="1.6" stroke-dasharray="1.5 1.9"/>
<path d="M205.6,281.5 C206.5,281.7 208.6,283.6 210.7,282.7 C212.9,281.8 216.1,278.0 218.5,276.0 C220.8,274.0 221.7,270.8 224.9,270.6 C228.1,270.4 232.8,273.0 237.8,274.8 C242.7,276.6 250.2,279.8 254.5,281.5 C258.8,283.1 259.9,284.4 263.5,284.8 C267.2,285.2 271.0,284.1 276.4,283.9 C281.8,283.7 283.9,283.6 295.7,283.5 C307.5,283.5 338.6,283.7 347.2,283.8" fill="none" stroke="#9e9e9e" stroke-width="1.7" stroke-dasharray="3.9 3.2"/>
<path d="M205.6,274.8 C206.2,274.8 207.7,280.9 209.5,274.8 C211.2,268.8 213.5,247.3 215.9,238.4 C218.3,229.5 221.0,222.5 223.6,221.5 C226.2,220.5 227.9,225.5 231.3,232.4 C234.8,239.2 241.0,254.2 244.2,262.7 C247.4,271.2 248.8,278.2 250.7,283.3 C252.5,288.4 253.4,293.0 255.2,293.0 C256.9,293.0 258.5,287.0 261.0,283.3 C263.4,279.6 266.3,271.9 270.0,270.6 C273.6,269.3 277.5,274.9 282.8,275.4 C288.2,276.0 295.7,274.0 302.1,273.8 C308.6,273.7 313.9,274.2 321.5,274.4 C329.0,274.7 342.9,275.3 347.2,275.4" fill="none" stroke="#4570c0" stroke-width="2" stroke-linejoin="round"/>
</g>
<rect x="203.0" y="264.9375" width="5.2" height="5.2" fill="#fff" stroke="#4570c0" stroke-width="1.8"/>
<path d="M205.6,258.375 L208.7,264.07500000000005 L202.5,264.07500000000005Z" fill="#f6b88c" stroke="#e47a34" stroke-width="1.7" stroke-linejoin="round"/>
<path d="M205.6,278.40250000000003 L208.79999999999998,281.6025 L205.6,284.8025 L202.4,281.6025Z" fill="#f4f4f4" stroke="#8c8c8c" stroke-width="1.7"/>
<text x="197.1" y="296.2" font-size="9.3" text-anchor="end" font-weight="normal" font-family="'Liberation Serif',serif" fill="#262626" stroke="#262626" stroke-width="0.12" >0</text>
<text x="197.1" y="271.95" font-size="9.3" text-anchor="end" font-weight="normal" font-family="'Liberation Serif',serif" fill="#262626" stroke="#262626" stroke-width="0.12" >20</text>
<text x="197.1" y="247.7" font-size="9.3" text-anchor="end" font-weight="normal" font-family="'Liberation Serif',serif" fill="#262626" stroke="#262626" stroke-width="0.12" >40</text>
<text x="197.1" y="223.45" font-size="9.3" text-anchor="end" font-weight="normal" font-family="'Liberation Serif',serif" fill="#262626" stroke="#262626" stroke-width="0.12" >60</text>
<text x="197.1" y="199.2" font-size="9.3" text-anchor="end" font-weight="normal" font-family="'Liberation Serif',serif" fill="#262626" stroke="#262626" stroke-width="0.12" >80</text>
<text x="205.6" y="308" font-size="9.3" text-anchor="middle" font-weight="normal" font-family="'Liberation Serif',serif" fill="#262626" stroke="#262626" stroke-width="0.12" >0</text>
<text x="231.34545454545454" y="308" font-size="9.3" text-anchor="middle" font-weight="normal" font-family="'Liberation Serif',serif" fill="#262626" stroke="#262626" stroke-width="0.12" >0.2</text>
<text x="257.09090909090907" y="308" font-size="9.3" text-anchor="middle" font-weight="normal" font-family="'Liberation Serif',serif" fill="#262626" stroke="#262626" stroke-width="0.12" >0.4</text>
<text x="282.8363636363636" y="308" font-size="9.3" text-anchor="middle" font-weight="normal" font-family="'Liberation Serif',serif" fill="#262626" stroke="#262626" stroke-width="0.12" >0.6</text>
<text x="308.58181818181816" y="308" font-size="9.3" text-anchor="middle" font-weight="normal" font-family="'Liberation Serif',serif" fill="#262626" stroke="#262626" stroke-width="0.12" >0.8</text>
<text x="334.3272727272727" y="308" font-size="9.3" text-anchor="middle" font-weight="normal" font-family="'Liberation Serif',serif" fill="#262626" stroke="#262626" stroke-width="0.12" >1</text>
<text x="271.8" y="184.6" font-size="10.7" text-anchor="middle" font-weight="normal" font-family="'Liberation Serif',serif" fill="#1a1a1a" stroke="#1a1a1a" stroke-width="0.1" >FR = 1</text>
<rect x="373.6" y="196" width="141.79999999999995" height="97" fill="#fff" stroke="#868686" stroke-width="1.1"/>
<g clip-path="none">
<path d="M373.6,266.3 C374.5,266.7 376.8,273.4 378.8,268.8 C380.7,264.1 382.8,246.7 385.2,238.4 C387.6,230.2 390.1,220.0 392.9,219.0 C395.7,218.0 398.7,225.7 402.0,232.4 C405.2,239.0 409.0,252.2 412.3,259.1 C415.5,265.9 418.7,270.6 421.3,273.6 C423.9,276.6 425.6,277.4 427.7,277.2 C429.9,277.0 432.0,274.1 434.2,272.4 C436.3,270.7 437.8,267.2 440.6,266.9 C443.4,266.6 446.0,270.3 450.9,270.6 C455.9,270.9 459.5,268.9 470.3,268.8 C481.0,268.6 507.9,269.8 515.4,270.0" fill="none" stroke="#de8a50" stroke-width="1.6" stroke-dasharray="1.5 1.9"/>
<path d="M373.6,267.5 C374.5,268.0 376.8,274.3 378.8,270.4 C380.7,266.6 382.8,251.6 385.2,244.5 C387.6,237.4 390.1,229.0 392.9,228.0 C395.7,227.0 398.7,233.1 402.0,238.4 C405.2,243.8 409.0,254.2 412.3,260.3 C415.5,266.3 418.5,271.8 421.3,274.8 C424.1,277.8 426.7,278.7 429.0,278.4 C431.4,278.2 433.5,275.3 435.5,273.6 C437.4,271.9 438.1,268.5 440.6,268.1 C443.2,267.7 446.0,270.6 450.9,271.2 C455.9,271.7 459.5,271.4 470.3,271.5 C481.0,271.6 507.9,271.7 515.4,271.8" fill="none" stroke="#9e9e9e" stroke-width="1.7" stroke-dasharray="3.9 3.2"/>
<path d="M373.6,270.2 C374.0,270.4 374.7,277.0 376.2,271.7 C377.7,266.4 380.3,250.0 382.6,238.4 C385.0,226.9 387.6,206.5 390.4,202.3 C393.2,198.1 396.4,207.0 399.4,213.0 C402.4,219.0 405.6,229.1 408.4,238.4 C411.2,247.7 413.8,259.7 416.1,268.8 C418.5,277.8 420.4,291.0 422.6,293.0 C424.7,295.0 426.5,285.9 429.0,280.9 C431.6,275.8 435.0,264.5 438.1,262.7 C441.1,260.9 444.1,268.6 447.1,270.0 C450.1,271.3 451.6,270.9 456.1,270.6 C460.6,270.3 464.3,268.4 474.1,268.3 C484.0,268.2 508.5,269.7 515.4,270.0" fill="none" stroke="#4570c0" stroke-width="2" stroke-linejoin="round"/>
</g>
<rect x="371.0" y="256.6925" width="5.2" height="5.2" fill="#fff" stroke="#4570c0" stroke-width="1.8"/>
<path d="M373.6,259.10249999999996 L376.70000000000005,264.8025 L370.5,264.8025Z" fill="#f6b88c" stroke="#e47a34" stroke-width="1.7" stroke-linejoin="round"/>
<path d="M373.6,261.4275 L376.8,264.6275 L373.6,267.8275 L370.40000000000003,264.6275Z" fill="#f4f4f4" stroke="#8c8c8c" stroke-width="1.7"/>
<text x="365.1" y="296.2" font-size="9.3" text-anchor="end" font-weight="normal" font-family="'Liberation Serif',serif" fill="#262626" stroke="#262626" stroke-width="0.12" >0</text>
<text x="365.1" y="271.95" font-size="9.3" text-anchor="end" font-weight="normal" font-family="'Liberation Serif',serif" fill="#262626" stroke="#262626" stroke-width="0.12" >20</text>
<text x="365.1" y="247.7" font-size="9.3" text-anchor="end" font-weight="normal" font-family="'Liberation Serif',serif" fill="#262626" stroke="#262626" stroke-width="0.12" >40</text>
<text x="365.1" y="223.45" font-size="9.3" text-anchor="end" font-weight="normal" font-family="'Liberation Serif',serif" fill="#262626" stroke="#262626" stroke-width="0.12" >60</text>
<text x="365.1" y="199.2" font-size="9.3" text-anchor="end" font-weight="normal" font-family="'Liberation Serif',serif" fill="#262626" stroke="#262626" stroke-width="0.12" >80</text>
<text x="373.6" y="308" font-size="9.3" text-anchor="middle" font-weight="normal" font-family="'Liberation Serif',serif" fill="#262626" stroke="#262626" stroke-width="0.12" >0</text>
<text x="399.3818181818182" y="308" font-size="9.3" text-anchor="middle" font-weight="normal" font-family="'Liberation Serif',serif" fill="#262626" stroke="#262626" stroke-width="0.12" >0.2</text>
<text x="425.1636363636364" y="308" font-size="9.3" text-anchor="middle" font-weight="normal" font-family="'Liberation Serif',serif" fill="#262626" stroke="#262626" stroke-width="0.12" >0.4</text>
<text x="450.94545454545454" y="308" font-size="9.3" text-anchor="middle" font-weight="normal" font-family="'Liberation Serif',serif" fill="#262626" stroke="#262626" stroke-width="0.12" >0.6</text>
<text x="476.7272727272727" y="308" font-size="9.3" text-anchor="middle" font-weight="normal" font-family="'Liberation Serif',serif" fill="#262626" stroke="#262626" stroke-width="0.12" >0.8</text>
<text x="502.5090909090909" y="308" font-size="9.3" text-anchor="middle" font-weight="normal" font-family="'Liberation Serif',serif" fill="#262626" stroke="#262626" stroke-width="0.12" >1</text>
<text x="440.1" y="184.6" font-size="10.7" text-anchor="middle" font-weight="normal" font-family="'Liberation Serif',serif" fill="#1a1a1a" stroke="#1a1a1a" stroke-width="0.1" >FR = 2</text>
<rect x="35.8" y="354.5" width="138.2" height="97.0" fill="#fff" stroke="#868686" stroke-width="1.1"/>
<g clip-path="none">
<path d="M35.8,432.7 C36.4,432.0 37.9,434.2 39.6,428.8 C41.2,423.3 43.5,407.1 45.9,400.0 C48.2,392.8 50.9,386.0 53.4,385.7 C55.9,385.5 57.6,392.0 60.9,398.5 C64.3,404.9 69.5,416.6 73.5,424.2 C77.5,431.8 81.9,441.9 84.8,443.9 C87.7,445.9 88.4,438.8 91.1,436.3 C93.8,433.9 97.8,429.9 101.1,429.1 C104.5,428.3 105.3,431.1 111.2,431.5 C117.0,431.8 125.8,431.0 136.3,431.2 C146.8,431.3 167.7,432.2 174.0,432.4" fill="none" stroke="#de8a50" stroke-width="1.6" stroke-dasharray="1.5 1.9"/>
<path d="M35.8,450.6 C40.0,450.6 50.5,450.6 60.9,450.6 C71.4,450.6 79.8,450.6 98.6,450.6 C117.5,450.6 161.4,450.6 174.0,450.6" fill="none" stroke="#9e9e9e" stroke-width="1.7" stroke-dasharray="3.9 3.2"/>
<path d="M35.8,431.8 C36.4,431.9 37.9,438.5 39.6,432.7 C41.2,426.9 43.0,408.1 45.9,396.9 C48.7,385.8 53.2,368.0 56.5,366.0 C59.9,364.0 62.9,376.1 66.0,384.8 C69.0,393.5 71.4,408.6 74.7,418.2 C78.1,427.7 82.9,439.6 86.1,442.1 C89.2,444.6 91.1,435.6 93.6,433.3 C96.1,431.0 98.2,428.9 101.1,428.5 C104.1,428.1 105.3,430.5 111.2,430.9 C117.0,431.3 125.8,430.7 136.3,430.9 C146.8,431.1 167.7,431.9 174.0,432.1" fill="none" stroke="#4570c0" stroke-width="2" stroke-linejoin="round"/>
</g>
<rect x="33.199999999999996" y="418.5875" width="5.2" height="5.2" fill="#fff" stroke="#4570c0" stroke-width="1.8"/>
<path d="M35.8,424.15 L38.9,429.85 L32.699999999999996,429.85Z" fill="#f6b88c" stroke="#e47a34" stroke-width="1.7" stroke-linejoin="round"/>
<path d="M35.8,448.3 L39.0,451.5 L35.8,454.7 L32.599999999999994,451.5Z" fill="#f4f4f4" stroke="#8c8c8c" stroke-width="1.7"/>
<text x="27.299999999999997" y="454.7" font-size="9.3" text-anchor="end" font-weight="normal" font-family="'Liberation Serif',serif" fill="#262626" stroke="#262626" stroke-width="0.12" >0</text>
<text x="27.299999999999997" y="430.45" font-size="9.3" text-anchor="end" font-weight="normal" font-family="'Liberation Serif',serif" fill="#262626" stroke="#262626" stroke-width="0.12" >0.8</text>
<text x="27.299999999999997" y="406.2" font-size="9.3" text-anchor="end" font-weight="normal" font-family="'Liberation Serif',serif" fill="#262626" stroke="#262626" stroke-width="0.12" >1.6</text>
<text x="27.299999999999997" y="381.95" font-size="9.3" text-anchor="end" font-weight="normal" font-family="'Liberation Serif',serif" fill="#262626" stroke="#262626" stroke-width="0.12" >2.4</text>
<text x="27.299999999999997" y="357.7" font-size="9.3" text-anchor="end" font-weight="normal" font-family="'Liberation Serif',serif" fill="#262626" stroke="#262626" stroke-width="0.12" >3.2</text>
<text x="35.8" y="466.5" font-size="9.3" text-anchor="middle" font-weight="normal" font-family="'Liberation Serif',serif" fill="#262626" stroke="#262626" stroke-width="0.12" >0</text>
<text x="60.92727272727272" y="466.5" font-size="9.3" text-anchor="middle" font-weight="normal" font-family="'Liberation Serif',serif" fill="#262626" stroke="#262626" stroke-width="0.12" >0.2</text>
<text x="86.05454545454545" y="466.5" font-size="9.3" text-anchor="middle" font-weight="normal" font-family="'Liberation Serif',serif" fill="#262626" stroke="#262626" stroke-width="0.12" >0.4</text>
<text x="111.18181818181816" y="466.5" font-size="9.3" text-anchor="middle" font-weight="normal" font-family="'Liberation Serif',serif" fill="#262626" stroke="#262626" stroke-width="0.12" >0.6</text>
<text x="136.3090909090909" y="466.5" font-size="9.3" text-anchor="middle" font-weight="normal" font-family="'Liberation Serif',serif" fill="#262626" stroke="#262626" stroke-width="0.12" >0.8</text>
<text x="161.4363636363636" y="466.5" font-size="9.3" text-anchor="middle" font-weight="normal" font-family="'Liberation Serif',serif" fill="#262626" stroke="#262626" stroke-width="0.12" >1</text>
<text x="97.8" y="344.6" font-size="10.7" text-anchor="middle" font-weight="normal" font-family="'Liberation Serif',serif" fill="#1a1a1a" stroke="#1a1a1a" stroke-width="0.1" >FR = 0.28</text>
<rect x="207.6" y="354.5" width="139.79999999999998" height="97.0" fill="#fff" stroke="#868686" stroke-width="1.1"/>
<g clip-path="none">
<path d="M207.6,434.8 C208.2,434.6 209.7,438.6 211.4,433.3 C213.1,428.0 215.2,410.5 217.8,403.0 C220.3,395.5 223.7,389.0 226.7,388.4 C229.6,387.9 232.4,394.5 235.6,400.0 C238.7,405.4 242.8,414.9 245.7,421.2 C248.7,427.5 251.4,434.1 253.4,437.9 C255.3,441.6 255.3,444.2 257.2,443.9 C259.1,443.7 262.0,438.6 264.8,436.3 C267.5,434.1 270.5,430.8 273.7,430.3 C276.9,429.8 277.9,432.9 283.9,433.3 C289.8,433.8 298.7,433.0 309.3,433.0 C319.9,433.1 341.0,433.5 347.4,433.6" fill="none" stroke="#de8a50" stroke-width="1.6" stroke-dasharray="1.5 1.9"/>
<path d="M207.6,443.3 C208.4,443.6 210.6,445.5 212.7,444.8 C214.8,444.2 218.0,440.9 220.3,439.4 C222.6,437.9 223.5,435.8 226.7,435.7 C229.8,435.6 234.3,437.4 239.4,438.8 C244.5,440.1 252.7,442.7 257.2,443.9 C261.6,445.1 262.7,445.8 266.1,446.0 C269.5,446.2 272.4,445.3 277.5,445.1 C282.6,444.9 284.9,444.8 296.6,444.8 C308.2,444.8 338.9,445.1 347.4,445.1" fill="none" stroke="#9e9e9e" stroke-width="1.7" stroke-dasharray="3.9 3.2"/>
<path d="M207.6,438.2 C208.2,438.3 209.7,442.6 211.4,438.8 C213.1,434.9 215.4,421.2 217.8,415.1 C220.1,409.1 222.4,402.9 225.4,402.4 C228.4,401.9 232.2,407.7 235.6,412.1 C238.9,416.5 243.0,423.7 245.7,428.8 C248.5,433.8 250.2,438.6 252.1,442.4 C254.0,446.2 255.3,451.2 257.2,451.5 C259.1,451.8 261.2,446.5 263.5,443.9 C265.8,441.3 267.8,436.4 271.1,435.7 C274.5,435.1 277.5,439.5 283.9,440.0 C290.2,440.4 298.7,438.6 309.3,438.5 C319.9,438.4 341.0,439.2 347.4,439.4" fill="none" stroke="#4570c0" stroke-width="2" stroke-linejoin="round"/>
</g>
<rect x="205.0" y="431.92499999999995" width="5.2" height="5.2" fill="#fff" stroke="#4570c0" stroke-width="1.8"/>
<path d="M207.6,423.24062499999997 L210.7,428.940625 L204.5,428.940625Z" fill="#f6b88c" stroke="#e47a34" stroke-width="1.7" stroke-linejoin="round"/>
<path d="M207.6,440.115625 L210.79999999999998,443.315625 L207.6,446.515625 L204.4,443.315625Z" fill="#f4f4f4" stroke="#8c8c8c" stroke-width="1.7"/>
<text x="199.1" y="454.7" font-size="9.3" text-anchor="end" font-weight="normal" font-family="'Liberation Serif',serif" fill="#262626" stroke="#262626" stroke-width="0.12" >0</text>
<text x="199.1" y="430.45" font-size="9.3" text-anchor="end" font-weight="normal" font-family="'Liberation Serif',serif" fill="#262626" stroke="#262626" stroke-width="0.12" >0.8</text>
<text x="199.1" y="406.2" font-size="9.3" text-anchor="end" font-weight="normal" font-family="'Liberation Serif',serif" fill="#262626" stroke="#262626" stroke-width="0.12" >1.6</text>
<text x="199.1" y="381.95" font-size="9.3" text-anchor="end" font-weight="normal" font-family="'Liberation Serif',serif" fill="#262626" stroke="#262626" stroke-width="0.12" >2.4</text>
<text x="199.1" y="357.7" font-size="9.3" text-anchor="end" font-weight="normal" font-family="'Liberation Serif',serif" fill="#262626" stroke="#262626" stroke-width="0.12" >3.2</text>
<text x="207.6" y="466.5" font-size="9.3" text-anchor="middle" font-weight="normal" font-family="'Liberation Serif',serif" fill="#262626" stroke="#262626" stroke-width="0.12" >0</text>
<text x="233.0181818181818" y="466.5" font-size="9.3" text-anchor="middle" font-weight="normal" font-family="'Liberation Serif',serif" fill="#262626" stroke="#262626" stroke-width="0.12" >0.2</text>
<text x="258.43636363636364" y="466.5" font-size="9.3" text-anchor="middle" font-weight="normal" font-family="'Liberation Serif',serif" fill="#262626" stroke="#262626" stroke-width="0.12" >0.4</text>
<text x="283.8545454545454" y="466.5" font-size="9.3" text-anchor="middle" font-weight="normal" font-family="'Liberation Serif',serif" fill="#262626" stroke="#262626" stroke-width="0.12" >0.6</text>
<text x="309.27272727272725" y="466.5" font-size="9.3" text-anchor="middle" font-weight="normal" font-family="'Liberation Serif',serif" fill="#262626" stroke="#262626" stroke-width="0.12" >0.8</text>
<text x="334.69090909090903" y="466.5" font-size="9.3" text-anchor="middle" font-weight="normal" font-family="'Liberation Serif',serif" fill="#262626" stroke="#262626" stroke-width="0.12" >1</text>
<text x="272.7" y="344.6" font-size="10.7" text-anchor="middle" font-weight="normal" font-family="'Liberation Serif',serif" fill="#1a1a1a" stroke="#1a1a1a" stroke-width="0.1" >FR = 1</text>
<rect x="376" y="354.2" width="139.39999999999998" height="97.10000000000002" fill="#fff" stroke="#868686" stroke-width="1.1"/>
<g clip-path="none">
<path d="M376.0,430.1 C376.8,430.5 379.2,436.0 381.1,432.5 C383.0,428.9 385.1,415.3 387.4,408.8 C389.7,402.3 392.3,394.7 395.0,393.6 C397.8,392.6 400.7,397.9 403.9,402.8 C407.0,407.6 410.8,416.9 414.0,422.5 C417.2,428.0 420.6,433.1 422.9,436.1 C425.2,439.1 426.1,440.4 428.0,440.4 C429.9,440.4 432.0,437.8 434.3,436.1 C436.6,434.4 438.9,430.6 441.9,430.1 C444.9,429.6 446.1,432.7 452.0,433.1 C458.0,433.5 466.8,432.5 477.4,432.5 C487.9,432.5 509.1,433.0 515.4,433.1" fill="none" stroke="#de8a50" stroke-width="1.6" stroke-dasharray="1.5 1.9"/>
<path d="M376.0,433.1 C376.8,433.3 379.2,437.1 381.1,434.6 C383.0,432.1 384.9,422.9 387.4,417.9 C389.9,413.0 393.3,405.9 396.3,404.9 C399.2,403.9 402.2,408.2 405.1,411.9 C408.1,415.5 411.1,422.7 414.0,427.0 C417.0,431.3 420.4,435.6 422.9,437.6 C425.4,439.7 427.1,439.4 429.2,439.2 C431.3,438.9 433.4,437.0 435.6,436.1 C437.7,435.2 439.2,433.7 441.9,433.7 C444.6,433.7 446.1,435.7 452.0,436.1 C458.0,436.5 466.8,436.1 477.4,436.1 C487.9,436.1 509.1,436.1 515.4,436.1" fill="none" stroke="#9e9e9e" stroke-width="1.7" stroke-dasharray="3.9 3.2"/>
<path d="M376.0,447.4 C376.6,447.3 378.1,448.2 379.8,446.7 C381.5,445.3 383.8,440.3 386.1,438.6 C388.5,436.8 390.8,435.9 393.7,436.1 C396.7,436.3 400.5,438.0 403.9,439.8 C407.3,441.5 410.6,444.8 414.0,446.7 C417.4,448.7 421.2,451.0 424.2,451.3 C427.1,451.6 429.2,449.1 431.8,448.3 C434.3,447.4 436.0,446.2 439.4,446.1 C442.7,446.1 445.7,447.8 452.0,448.0 C458.4,448.2 466.8,447.4 477.4,447.4 C487.9,447.3 509.1,447.6 515.4,447.7" fill="none" stroke="#4570c0" stroke-width="2" stroke-linejoin="round"/>
</g>
<rect x="373.4" y="443.23812499999997" width="5.2" height="5.2" fill="#fff" stroke="#4570c0" stroke-width="1.8"/>
<path d="M376.0,423.318125 L379.1,429.01812500000005 L372.9,429.01812500000005Z" fill="#f6b88c" stroke="#e47a34" stroke-width="1.7" stroke-linejoin="round"/>
<path d="M376.0,426.859375 L379.2,430.059375 L376.0,433.259375 L372.8,430.059375Z" fill="#f4f4f4" stroke="#8c8c8c" stroke-width="1.7"/>
<text x="367.5" y="454.5" font-size="9.3" text-anchor="end" font-weight="normal" font-family="'Liberation Serif',serif" fill="#262626" stroke="#262626" stroke-width="0.12" >0</text>
<text x="367.5" y="430.22499999999997" font-size="9.3" text-anchor="end" font-weight="normal" font-family="'Liberation Serif',serif" fill="#262626" stroke="#262626" stroke-width="0.12" >0.8</text>
<text x="367.5" y="405.95" font-size="9.3" text-anchor="end" font-weight="normal" font-family="'Liberation Serif',serif" fill="#262626" stroke="#262626" stroke-width="0.12" >1.6</text>
<text x="367.5" y="381.675" font-size="9.3" text-anchor="end" font-weight="normal" font-family="'Liberation Serif',serif" fill="#262626" stroke="#262626" stroke-width="0.12" >2.4</text>
<text x="367.5" y="357.4" font-size="9.3" text-anchor="end" font-weight="normal" font-family="'Liberation Serif',serif" fill="#262626" stroke="#262626" stroke-width="0.12" >3.2</text>
<text x="376.0" y="466.3" font-size="9.3" text-anchor="middle" font-weight="normal" font-family="'Liberation Serif',serif" fill="#262626" stroke="#262626" stroke-width="0.12" >0</text>
<text x="401.3454545454545" y="466.3" font-size="9.3" text-anchor="middle" font-weight="normal" font-family="'Liberation Serif',serif" fill="#262626" stroke="#262626" stroke-width="0.12" >0.2</text>
<text x="426.6909090909091" y="466.3" font-size="9.3" text-anchor="middle" font-weight="normal" font-family="'Liberation Serif',serif" fill="#262626" stroke="#262626" stroke-width="0.12" >0.4</text>
<text x="452.0363636363636" y="466.3" font-size="9.3" text-anchor="middle" font-weight="normal" font-family="'Liberation Serif',serif" fill="#262626" stroke="#262626" stroke-width="0.12" >0.6</text>
<text x="477.3818181818182" y="466.3" font-size="9.3" text-anchor="middle" font-weight="normal" font-family="'Liberation Serif',serif" fill="#262626" stroke="#262626" stroke-width="0.12" >0.8</text>
<text x="502.7272727272727" y="466.3" font-size="9.3" text-anchor="middle" font-weight="normal" font-family="'Liberation Serif',serif" fill="#262626" stroke="#262626" stroke-width="0.12" >1</text>
<text x="440.8" y="344.6" font-size="10.7" text-anchor="middle" font-weight="normal" font-family="'Liberation Serif',serif" fill="#1a1a1a" stroke="#1a1a1a" stroke-width="0.1" >FR = 2</text>
<text x="11.2" y="243.2" font-size="10.3" text-anchor="middle" font-weight="normal" font-family="'Liberation Serif',serif" fill="#262626" stroke="#262626" stroke-width="0.1" transform="rotate(-90 11.2 243.2)">Velocity (cm/s)</text>
<text x="11.4" y="401.9" font-size="10.7" text-anchor="middle" font-weight="normal" font-family="'Liberation Serif',serif" fill="#262626" stroke="#262626" stroke-width="0.1" transform="rotate(-90 11.4 401.9)">Flow rate (ml/s)</text>
<line x1="100.4" y1="202.7" x2="123.4" y2="202.7" stroke="#4570c0" stroke-width="2"/>
<text x="125.9" y="205.79999999999998" font-size="8.8" text-anchor="start" font-weight="normal" font-family="'Liberation Serif',serif" fill="#262626" stroke="#262626" stroke-width="0.12" >iP1</text>
<line x1="100.9" y1="214.2" x2="123.4" y2="214.2" stroke="#de8a50" stroke-width="1.6" stroke-dasharray="1.5 1.9"/>
<text x="125.9" y="217.29999999999998" font-size="8.8" text-anchor="start" font-weight="normal" font-family="'Liberation Serif',serif" fill="#262626" stroke="#262626" stroke-width="0.12" >iP2</text>
<line x1="100.4" y1="225.2" x2="123.4" y2="225.2" stroke="#9e9e9e" stroke-width="1.7" stroke-dasharray="3.9 3.2"/>
<text x="125.9" y="228.29999999999998" font-size="8.8" text-anchor="start" font-weight="normal" font-family="'Liberation Serif',serif" fill="#262626" stroke="#262626" stroke-width="0.12" >iPCoA</text>
<rect x="109.80000000000001" y="233.6" width="5.2" height="5.2" fill="#fff" stroke="#4570c0" stroke-width="1.8"/>
<text x="126.4" y="239.29999999999998" font-size="8.8" text-anchor="start" font-weight="normal" font-family="'Liberation Serif',serif" fill="#262626" stroke="#262626" stroke-width="0.12" >Ave-iP1</text>
<path d="M112.4,244.20000000000002 L115.5,249.9 L109.30000000000001,249.9Z" fill="#f6b88c" stroke="#e47a34" stroke-width="1.7" stroke-linejoin="round"/>
<text x="126.4" y="250.4" font-size="8.8" text-anchor="start" font-weight="normal" font-family="'Liberation Serif',serif" fill="#262626" stroke="#262626" stroke-width="0.12" >Ave-iP2</text>
<path d="M112.4,255.0 L115.60000000000001,258.2 L112.4,261.4 L109.2,258.2Z" fill="#f4f4f4" stroke="#8c8c8c" stroke-width="1.7"/>
<text x="126.4" y="261.3" font-size="8.8" text-anchor="start" font-weight="normal" font-family="'Liberation Serif',serif" fill="#262626" stroke="#262626" stroke-width="0.12" >Ave-iPCoA</text>
<line x1="101.8" y1="360.9" x2="124.8" y2="360.9" stroke="#4570c0" stroke-width="2"/>
<text x="127.3" y="364.0" font-size="8.8" text-anchor="start" font-weight="normal" font-family="'Liberation Serif',serif" fill="#262626" stroke="#262626" stroke-width="0.12" >iP1</text>
<line x1="102.3" y1="371.5" x2="124.8" y2="371.5" stroke="#de8a50" stroke-width="1.6" stroke-dasharray="1.5 1.9"/>
<text x="127.3" y="374.6" font-size="8.8" text-anchor="start" font-weight="normal" font-family="'Liberation Serif',serif" fill="#262626" stroke="#262626" stroke-width="0.12" >iP2</text>
<line x1="101.8" y1="382.1" x2="124.8" y2="382.1" stroke="#9e9e9e" stroke-width="1.7" stroke-dasharray="3.9 3.2"/>
<text x="127.3" y="385.20000000000005" font-size="8.8" text-anchor="start" font-weight="normal" font-family="'Liberation Serif',serif" fill="#262626" stroke="#262626" stroke-width="0.12" >iPCoA</text>
<rect x="111.2" y="390.0" width="5.2" height="5.2" fill="#fff" stroke="#4570c0" stroke-width="1.8"/>
<text x="127.8" y="395.70000000000005" font-size="8.8" text-anchor="start" font-weight="normal" font-family="'Liberation Serif',serif" fill="#262626" stroke="#262626" stroke-width="0.12" >Ave-iP1</text>
<path d="M113.8,399.9 L116.89999999999999,405.6 L110.7,405.6Z" fill="#f6b88c" stroke="#e47a34" stroke-width="1.7" stroke-linejoin="round"/>
<text x="127.8" y="406.1" font-size="8.8" text-anchor="start" font-weight="normal" font-family="'Liberation Serif',serif" fill="#262626" stroke="#262626" stroke-width="0.12" >Ave-iP2</text>
<path d="M113.8,410.3 L117.0,413.5 L113.8,416.7 L110.6,413.5Z" fill="#f4f4f4" stroke="#8c8c8c" stroke-width="1.7"/>
<text x="127.8" y="416.6" font-size="8.8" text-anchor="start" font-weight="normal" font-family="'Liberation Serif',serif" fill="#262626" stroke="#262626" stroke-width="0.12" >Ave-iPCoA</text>
<text x="260" y="327.8" font-size="12.4" text-anchor="middle" font-weight="normal" font-family="'Liberation Serif',serif" fill="#111" stroke="#111" stroke-width="0.18" >(b) Area-average velocity</text>
<text x="260.3" y="488" font-size="12.4" text-anchor="middle" font-weight="normal" font-family="'Liberation Serif',serif" fill="#111" stroke="#111" stroke-width="0.18" >(c) Flow rate</text>
<text x="258.5" y="164.8" font-size="12.4" text-anchor="middle" font-weight="normal" font-family="'Liberation Serif',serif" fill="#111" stroke="#111" stroke-width="0.18" >(a) Volume contour of peak systolic velocity</text>
<rect x="124" y="31" width="273.4" height="6.6" fill="url(#cb)"/>
<line x1="124.0" y1="25.5" x2="124.0" y2="32" stroke="#444" stroke-width="0.9"/>
<text x="119.7" y="21" font-size="8.3" text-anchor="middle" font-weight="normal" font-family="'DejaVu Serif',serif" fill="#333" stroke="#333" stroke-width="0.25" >0.0</text>
<line x1="151.3" y1="25.5" x2="151.3" y2="32" stroke="#444" stroke-width="0.9"/>
<text x="151.3" y="21" font-size="8.3" text-anchor="middle" font-weight="normal" font-family="'DejaVu Serif',serif" fill="#333" stroke="#333" stroke-width="0.25" >10</text>
<line x1="178.7" y1="25.5" x2="178.7" y2="32" stroke="#444" stroke-width="0.9"/>
<text x="178.7" y="21" font-size="8.3" text-anchor="middle" font-weight="normal" font-family="'DejaVu Serif',serif" fill="#333" stroke="#333" stroke-width="0.25" >20</text>
<line x1="206.0" y1="25.5" x2="206.0" y2="32" stroke="#444" stroke-width="0.9"/>
<text x="206.0" y="21" font-size="8.3" text-anchor="middle" font-weight="normal" font-family="'DejaVu Serif',serif" fill="#333" stroke="#333" stroke-width="0.25" >30</text>
<line x1="233.4" y1="25.5" x2="233.4" y2="32" stroke="#444" stroke-width="0.9"/>
<text x="233.4" y="21" font-size="8.3" text-anchor="middle" font-weight="normal" font-family="'DejaVu Serif',serif" fill="#333" stroke="#333" stroke-width="0.25" >40</text>
<line x1="260.7" y1="25.5" x2="260.7" y2="32" stroke="#444" stroke-width="0.9"/>
<text x="260.7" y="21" font-size="8.3" text-anchor="middle" font-weight="normal" font-family="'DejaVu Serif',serif" fill="#333" stroke="#333" stroke-width="0.25" >50</text>
<line x1="288.0" y1="25.5" x2="288.0" y2="32" stroke="#444" stroke-width="0.9"/>
<text x="288.0" y="21" font-size="8.3" text-anchor="middle" font-weight="normal" font-family="'DejaVu Serif',serif" fill="#333" stroke="#333" stroke-width="0.25" >60</text>
<line x1="315.4" y1="25.5" x2="315.4" y2="32" stroke="#444" stroke-width="0.9"/>
<text x="315.4" y="21" font-size="8.3" text-anchor="middle" font-weight="normal" font-family="'DejaVu Serif',serif" fill="#333" stroke="#333" stroke-width="0.25" >70</text>
<line x1="342.7" y1="25.5" x2="342.7" y2="32" stroke="#444" stroke-width="0.9"/>
<text x="342.7" y="21" font-size="8.3" text-anchor="middle" font-weight="normal" font-family="'DejaVu Serif',serif" fill="#333" stroke="#333" stroke-width="0.25" >80</text>
<line x1="370.1" y1="25.5" x2="370.1" y2="32" stroke="#444" stroke-width="0.9"/>
<text x="370.1" y="21" font-size="8.3" text-anchor="middle" font-weight="normal" font-family="'DejaVu Serif',serif" fill="#333" stroke="#333" stroke-width="0.25" >90</text>
<line x1="397.4" y1="25.5" x2="397.4" y2="32" stroke="#444" stroke-width="0.9"/>
<text x="397.4" y="21" font-size="8.3" text-anchor="middle" font-weight="normal" font-family="'DejaVu Serif',serif" fill="#333" stroke="#333" stroke-width="0.25" >100.0</text>
<text x="261.5" y="8.6" font-size="8.8" text-anchor="middle" font-weight="bold" font-family="'DejaVu Serif',serif" fill="#222" stroke="#222" stroke-width="0.28" >Velocity (cm/s)</text>
<text x="62.9" y="57.2" font-size="11.2" text-anchor="middle" font-weight="normal" font-family="'Liberation Serif',serif" fill="#262626" stroke="#262626" stroke-width="0.1" >FR = 0.28</text>
<text x="193.6" y="57" font-size="11.2" text-anchor="middle" font-weight="normal" font-family="'Liberation Serif',serif" fill="#262626" stroke="#262626" stroke-width="0.1" >FR = 1</text>
<text x="325.4" y="56.9" font-size="11.2" text-anchor="middle" font-weight="normal" font-family="'Liberation Serif',serif" fill="#262626" stroke="#262626" stroke-width="0.1" >FR = 2</text>
<text x="459.2" y="57.3" font-size="11.2" text-anchor="middle" font-weight="normal" font-family="'Liberation Serif',serif" fill="#262626" stroke="#262626" stroke-width="0.1" >Full f-PCA</text>
</svg>
</body></html>
